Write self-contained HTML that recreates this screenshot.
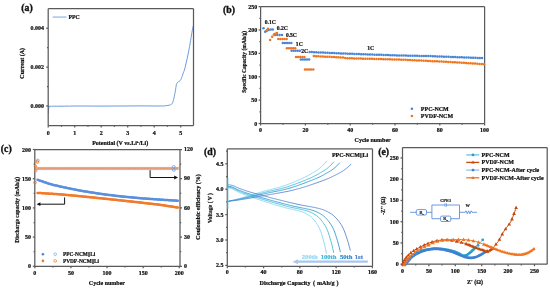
<!DOCTYPE html>
<html><head><meta charset="utf-8"><style>
html,body{margin:0;padding:0;background:#fff;}
svg{display:block;will-change:transform;}
text{font-family:'Liberation Serif',serif;font-weight:bold;}
</style></head><body>
<svg width="550" height="288" viewBox="0 0 550 288">
<rect width="550" height="288" fill="#fff"/>
<text x="27" y="10.53" font-size="9.8" text-anchor="middle" fill="#111" stroke="#111" stroke-width="0.36">(a)</text>
<polyline points="48.4,113 48.48,111.8 48.58,110.04 48.72,108.27 48.9,107 48.92,106.44 48.86,106.28 49.09,106.31 50,106.3 51.64,106.24 53.82,106.22 56.59,106.22 60,106.2 64.3,106.15 69.38,106.09 74.77,106.03 80,106 85,106.01 90,106.04 95,106.08 100,106.1 105,106.09 110,106.06 115,106.03 120,106 125,105.97 130,105.94 135,105.91 140,105.9 145.35,105.92 150.94,105.96 156.05,105.99 160,106 162.29,105.99 163.4,105.97 164.06,105.91 165,105.8 166.44,105.63 167.99,105.42 169.44,105.15 170.6,104.8 171.37,104.4 171.86,103.94 172.23,103.36 172.6,102.6 172.99,101.63 173.34,100.5 173.66,99.22 174,97.8 174.36,96.19 174.72,94.39 175.08,92.55 175.4,90.8 175.67,89.1 175.9,87.41 176.13,85.86 176.4,84.6 176.7,83.72 177.01,83.12 177.36,82.67 177.8,82.2 178.37,81.73 179.05,81.33 179.73,80.91 180.3,80.4 180.72,79.82 181.06,79.19 181.36,78.46 181.7,77.6 182.09,76.52 182.5,75.26 182.91,73.98 183.3,72.8 183.63,71.99 183.91,71.41 184.24,70.57 184.7,69 185.35,66.41 186.14,63.1 186.95,59.52 187.7,56.1 188.36,52.89 188.97,49.67 189.56,46.52 190.1,43.5 190.61,40.55 191.08,37.66 191.51,34.96 191.9,32.6 192.27,30.55 192.61,28.77 192.9,27.32 193.1,26.3" fill="none" stroke="#5b8fdc" stroke-width="0.9" stroke-linejoin="round" stroke-linecap="round"/>
<line x1="48.2" y1="8.7" x2="48.2" y2="125.6" stroke="#5a5a5a" stroke-width="1.25"/>
<line x1="193.5" y1="8.7" x2="193.5" y2="125.6" stroke="#5a5a5a" stroke-width="1.25"/>
<line x1="48.2" y1="8.7" x2="193.5" y2="8.7" stroke="#5a5a5a" stroke-width="1.25"/>
<line x1="48.2" y1="125.6" x2="193.5" y2="125.6" stroke="#5a5a5a" stroke-width="1.25"/>
<line x1="48.2" y1="125.6" x2="48.2" y2="127.6" stroke="#5a5a5a" stroke-width="1.25"/>
<line x1="74.7" y1="125.6" x2="74.7" y2="127.6" stroke="#5a5a5a" stroke-width="1.25"/>
<line x1="101.2" y1="125.6" x2="101.2" y2="127.6" stroke="#5a5a5a" stroke-width="1.25"/>
<line x1="127.7" y1="125.6" x2="127.7" y2="127.6" stroke="#5a5a5a" stroke-width="1.25"/>
<line x1="154.2" y1="125.6" x2="154.2" y2="127.6" stroke="#5a5a5a" stroke-width="1.25"/>
<line x1="180.7" y1="125.6" x2="180.7" y2="127.6" stroke="#5a5a5a" stroke-width="1.25"/>
<line x1="61.45" y1="125.6" x2="61.45" y2="126.8" stroke="#5a5a5a" stroke-width="1.25"/>
<line x1="87.95" y1="125.6" x2="87.95" y2="126.8" stroke="#5a5a5a" stroke-width="1.25"/>
<line x1="114.45" y1="125.6" x2="114.45" y2="126.8" stroke="#5a5a5a" stroke-width="1.25"/>
<line x1="140.95" y1="125.6" x2="140.95" y2="126.8" stroke="#5a5a5a" stroke-width="1.25"/>
<line x1="167.45" y1="125.6" x2="167.45" y2="126.8" stroke="#5a5a5a" stroke-width="1.25"/>
<text x="48.2" y="134.64" font-size="6" text-anchor="middle" fill="#111" stroke="#111" stroke-width="0.22">0</text>
<text x="74.7" y="134.64" font-size="6" text-anchor="middle" fill="#111" stroke="#111" stroke-width="0.22">1</text>
<text x="101.2" y="134.64" font-size="6" text-anchor="middle" fill="#111" stroke="#111" stroke-width="0.22">2</text>
<text x="127.7" y="134.64" font-size="6" text-anchor="middle" fill="#111" stroke="#111" stroke-width="0.22">3</text>
<text x="154.2" y="134.64" font-size="6" text-anchor="middle" fill="#111" stroke="#111" stroke-width="0.22">4</text>
<text x="180.7" y="134.64" font-size="6" text-anchor="middle" fill="#111" stroke="#111" stroke-width="0.22">5</text>
<line x1="48.2" y1="106" x2="46.2" y2="106" stroke="#5a5a5a" stroke-width="1.25"/>
<line x1="48.2" y1="67.1" x2="46.2" y2="67.1" stroke="#5a5a5a" stroke-width="1.25"/>
<line x1="48.2" y1="28.2" x2="46.2" y2="28.2" stroke="#5a5a5a" stroke-width="1.25"/>
<line x1="48.2" y1="86.55" x2="47" y2="86.55" stroke="#5a5a5a" stroke-width="1.25"/>
<line x1="48.2" y1="47.65" x2="47" y2="47.65" stroke="#5a5a5a" stroke-width="1.25"/>
<text x="44" y="108.04" font-size="6" text-anchor="end" fill="#111" stroke="#111" stroke-width="0.22">0.000</text>
<text x="44" y="69.14" font-size="6" text-anchor="end" fill="#111" stroke="#111" stroke-width="0.22">0.002</text>
<text x="44" y="30.24" font-size="6" text-anchor="end" fill="#111" stroke="#111" stroke-width="0.22">0.004</text>
<text x="22" y="65.34" font-size="6" text-anchor="middle" fill="#111" stroke="#111" stroke-width="0.22" transform="rotate(-90 22 63.3)">Current (A)</text>
<text x="120.2" y="145.24" font-size="6" text-anchor="middle" fill="#111" stroke="#111" stroke-width="0.22">Potential (V vs.Li<tspan font-size="3.6" dy="-2">+</tspan><tspan dy="2">/Li)</tspan></text>
<line x1="52.7" y1="17.1" x2="66.5" y2="17.1" stroke="#a9c8ee" stroke-width="1.6"/>
<text x="68.4" y="19.07" font-size="5.8" text-anchor="start" fill="#111" stroke="#111" stroke-width="0.21">PPC</text>
<text x="229" y="12.73" font-size="9.8" text-anchor="middle" fill="#111" stroke="#111" stroke-width="0.36">(b)</text>
<line x1="260.6" y1="6.6" x2="260.6" y2="123.5" stroke="#5a5a5a" stroke-width="1.25"/>
<line x1="484.6" y1="6.6" x2="484.6" y2="123.5" stroke="#5a5a5a" stroke-width="1.25"/>
<line x1="260.6" y1="6.6" x2="484.6" y2="6.6" stroke="#5a5a5a" stroke-width="1.25"/>
<line x1="260.6" y1="123.5" x2="484.6" y2="123.5" stroke="#5a5a5a" stroke-width="1.25"/>
<line x1="260.6" y1="123.5" x2="260.6" y2="125.5" stroke="#5a5a5a" stroke-width="1.25"/>
<line x1="305.4" y1="123.5" x2="305.4" y2="125.5" stroke="#5a5a5a" stroke-width="1.25"/>
<line x1="350.2" y1="123.5" x2="350.2" y2="125.5" stroke="#5a5a5a" stroke-width="1.25"/>
<line x1="395" y1="123.5" x2="395" y2="125.5" stroke="#5a5a5a" stroke-width="1.25"/>
<line x1="439.8" y1="123.5" x2="439.8" y2="125.5" stroke="#5a5a5a" stroke-width="1.25"/>
<line x1="484.6" y1="123.5" x2="484.6" y2="125.5" stroke="#5a5a5a" stroke-width="1.25"/>
<line x1="283" y1="123.5" x2="283" y2="124.7" stroke="#5a5a5a" stroke-width="1.25"/>
<line x1="327.8" y1="123.5" x2="327.8" y2="124.7" stroke="#5a5a5a" stroke-width="1.25"/>
<line x1="372.6" y1="123.5" x2="372.6" y2="124.7" stroke="#5a5a5a" stroke-width="1.25"/>
<line x1="417.4" y1="123.5" x2="417.4" y2="124.7" stroke="#5a5a5a" stroke-width="1.25"/>
<line x1="462.2" y1="123.5" x2="462.2" y2="124.7" stroke="#5a5a5a" stroke-width="1.25"/>
<text x="260.6" y="132.34" font-size="6" text-anchor="middle" fill="#111" stroke="#111" stroke-width="0.22">0</text>
<text x="305.4" y="132.34" font-size="6" text-anchor="middle" fill="#111" stroke="#111" stroke-width="0.22">20</text>
<text x="350.2" y="132.34" font-size="6" text-anchor="middle" fill="#111" stroke="#111" stroke-width="0.22">40</text>
<text x="395" y="132.34" font-size="6" text-anchor="middle" fill="#111" stroke="#111" stroke-width="0.22">60</text>
<text x="439.8" y="132.34" font-size="6" text-anchor="middle" fill="#111" stroke="#111" stroke-width="0.22">80</text>
<text x="484.6" y="132.34" font-size="6" text-anchor="middle" fill="#111" stroke="#111" stroke-width="0.22">100</text>
<line x1="260.6" y1="123.5" x2="258.6" y2="123.5" stroke="#5a5a5a" stroke-width="1.25"/>
<line x1="260.6" y1="100.12" x2="258.6" y2="100.12" stroke="#5a5a5a" stroke-width="1.25"/>
<line x1="260.6" y1="76.74" x2="258.6" y2="76.74" stroke="#5a5a5a" stroke-width="1.25"/>
<line x1="260.6" y1="53.36" x2="258.6" y2="53.36" stroke="#5a5a5a" stroke-width="1.25"/>
<line x1="260.6" y1="29.98" x2="258.6" y2="29.98" stroke="#5a5a5a" stroke-width="1.25"/>
<line x1="260.6" y1="6.6" x2="258.6" y2="6.6" stroke="#5a5a5a" stroke-width="1.25"/>
<line x1="260.6" y1="111.81" x2="259.4" y2="111.81" stroke="#5a5a5a" stroke-width="1.25"/>
<line x1="260.6" y1="88.43" x2="259.4" y2="88.43" stroke="#5a5a5a" stroke-width="1.25"/>
<line x1="260.6" y1="65.05" x2="259.4" y2="65.05" stroke="#5a5a5a" stroke-width="1.25"/>
<line x1="260.6" y1="41.67" x2="259.4" y2="41.67" stroke="#5a5a5a" stroke-width="1.25"/>
<line x1="260.6" y1="18.29" x2="259.4" y2="18.29" stroke="#5a5a5a" stroke-width="1.25"/>
<text x="257.3" y="125.54" font-size="6" text-anchor="end" fill="#111" stroke="#111" stroke-width="0.22">0</text>
<text x="257.3" y="102.16" font-size="6" text-anchor="end" fill="#111" stroke="#111" stroke-width="0.22">50</text>
<text x="257.3" y="78.78" font-size="6" text-anchor="end" fill="#111" stroke="#111" stroke-width="0.22">100</text>
<text x="257.3" y="55.4" font-size="6" text-anchor="end" fill="#111" stroke="#111" stroke-width="0.22">150</text>
<text x="257.3" y="32.02" font-size="6" text-anchor="end" fill="#111" stroke="#111" stroke-width="0.22">200</text>
<text x="257.3" y="8.64" font-size="6" text-anchor="end" fill="#111" stroke="#111" stroke-width="0.22">250</text>
<text x="243.8" y="63.67" font-size="5.5" text-anchor="middle" fill="#111" stroke="#111" stroke-width="0.2" transform="rotate(-90 243.8 61.8)">Specific Capacity (mAh/g)</text>
<text x="372.7" y="142.44" font-size="6" text-anchor="middle" fill="#111" stroke="#111" stroke-width="0.22">Cycle number</text>
<circle cx="263.5" cy="28.3" r="1.25" fill="#4a86d6" stroke="none" stroke-width="0"/>
<circle cx="265.2" cy="31.8" r="1.25" fill="#4a86d6" stroke="none" stroke-width="0"/>
<circle cx="266.6" cy="30.9" r="1.25" fill="#4a86d6" stroke="none" stroke-width="0"/>
<circle cx="268.7" cy="29.9" r="1.25" fill="#4a86d6" stroke="none" stroke-width="0"/>
<circle cx="270.8" cy="29.6" r="1.25" fill="#4a86d6" stroke="none" stroke-width="0"/>
<circle cx="272.8" cy="29.4" r="1.25" fill="#4a86d6" stroke="none" stroke-width="0"/>
<circle cx="274.9" cy="35" r="1.25" fill="#4a86d6" stroke="none" stroke-width="0"/>
<circle cx="277.27" cy="35" r="1.25" fill="#4a86d6" stroke="none" stroke-width="0"/>
<circle cx="279.63" cy="35" r="1.25" fill="#4a86d6" stroke="none" stroke-width="0"/>
<circle cx="282" cy="35" r="1.25" fill="#4a86d6" stroke="none" stroke-width="0"/>
<circle cx="282.8" cy="43" r="1.25" fill="#4a86d6" stroke="none" stroke-width="0"/>
<circle cx="284.93" cy="43" r="1.25" fill="#4a86d6" stroke="none" stroke-width="0"/>
<circle cx="287.05" cy="43" r="1.25" fill="#4a86d6" stroke="none" stroke-width="0"/>
<circle cx="289.18" cy="43" r="1.25" fill="#4a86d6" stroke="none" stroke-width="0"/>
<circle cx="291.3" cy="43" r="1.25" fill="#4a86d6" stroke="none" stroke-width="0"/>
<circle cx="291.6" cy="50.8" r="1.25" fill="#4a86d6" stroke="none" stroke-width="0"/>
<circle cx="293.65" cy="50.8" r="1.25" fill="#4a86d6" stroke="none" stroke-width="0"/>
<circle cx="295.7" cy="50.8" r="1.25" fill="#4a86d6" stroke="none" stroke-width="0"/>
<circle cx="297.75" cy="50.8" r="1.25" fill="#4a86d6" stroke="none" stroke-width="0"/>
<circle cx="299.8" cy="50.8" r="1.25" fill="#4a86d6" stroke="none" stroke-width="0"/>
<circle cx="300.8" cy="59.6" r="1.25" fill="#4a86d6" stroke="none" stroke-width="0"/>
<circle cx="302.88" cy="59.6" r="1.25" fill="#4a86d6" stroke="none" stroke-width="0"/>
<circle cx="304.95" cy="59.6" r="1.25" fill="#4a86d6" stroke="none" stroke-width="0"/>
<circle cx="307.03" cy="59.6" r="1.25" fill="#4a86d6" stroke="none" stroke-width="0"/>
<circle cx="309.1" cy="59.6" r="1.25" fill="#4a86d6" stroke="none" stroke-width="0"/>
<circle cx="309.6" cy="52" r="1.25" fill="#4a86d6" stroke="none" stroke-width="0"/>
<circle cx="311.84" cy="52.1" r="1.25" fill="#4a86d6" stroke="none" stroke-width="0"/>
<circle cx="314.08" cy="52.2" r="1.25" fill="#4a86d6" stroke="none" stroke-width="0"/>
<circle cx="316.32" cy="52.3" r="1.25" fill="#4a86d6" stroke="none" stroke-width="0"/>
<circle cx="318.56" cy="52.4" r="1.25" fill="#4a86d6" stroke="none" stroke-width="0"/>
<circle cx="320.8" cy="52.5" r="1.25" fill="#4a86d6" stroke="none" stroke-width="0"/>
<circle cx="323.04" cy="52.6" r="1.25" fill="#4a86d6" stroke="none" stroke-width="0"/>
<circle cx="325.28" cy="52.7" r="1.25" fill="#4a86d6" stroke="none" stroke-width="0"/>
<circle cx="327.52" cy="52.8" r="1.25" fill="#4a86d6" stroke="none" stroke-width="0"/>
<circle cx="329.76" cy="52.9" r="1.25" fill="#4a86d6" stroke="none" stroke-width="0"/>
<circle cx="332" cy="53" r="1.25" fill="#4a86d6" stroke="none" stroke-width="0"/>
<circle cx="334.24" cy="53.1" r="1.25" fill="#4a86d6" stroke="none" stroke-width="0"/>
<circle cx="336.48" cy="53.2" r="1.25" fill="#4a86d6" stroke="none" stroke-width="0"/>
<circle cx="338.72" cy="53.3" r="1.25" fill="#4a86d6" stroke="none" stroke-width="0"/>
<circle cx="340.96" cy="53.4" r="1.25" fill="#4a86d6" stroke="none" stroke-width="0"/>
<circle cx="343.2" cy="53.5" r="1.25" fill="#4a86d6" stroke="none" stroke-width="0"/>
<circle cx="345.44" cy="53.6" r="1.25" fill="#4a86d6" stroke="none" stroke-width="0"/>
<circle cx="347.68" cy="53.7" r="1.25" fill="#4a86d6" stroke="none" stroke-width="0"/>
<circle cx="349.92" cy="53.8" r="1.25" fill="#4a86d6" stroke="none" stroke-width="0"/>
<circle cx="352.16" cy="53.87" r="1.25" fill="#4a86d6" stroke="none" stroke-width="0"/>
<circle cx="354.4" cy="53.95" r="1.25" fill="#4a86d6" stroke="none" stroke-width="0"/>
<circle cx="356.64" cy="54.03" r="1.25" fill="#4a86d6" stroke="none" stroke-width="0"/>
<circle cx="358.88" cy="54.1" r="1.25" fill="#4a86d6" stroke="none" stroke-width="0"/>
<circle cx="361.12" cy="54.18" r="1.25" fill="#4a86d6" stroke="none" stroke-width="0"/>
<circle cx="363.36" cy="54.25" r="1.25" fill="#4a86d6" stroke="none" stroke-width="0"/>
<circle cx="365.6" cy="54.33" r="1.25" fill="#4a86d6" stroke="none" stroke-width="0"/>
<circle cx="367.84" cy="54.41" r="1.25" fill="#4a86d6" stroke="none" stroke-width="0"/>
<circle cx="370.08" cy="54.48" r="1.25" fill="#4a86d6" stroke="none" stroke-width="0"/>
<circle cx="372.32" cy="54.56" r="1.25" fill="#4a86d6" stroke="none" stroke-width="0"/>
<circle cx="374.56" cy="54.64" r="1.25" fill="#4a86d6" stroke="none" stroke-width="0"/>
<circle cx="376.8" cy="54.71" r="1.25" fill="#4a86d6" stroke="none" stroke-width="0"/>
<circle cx="379.04" cy="54.79" r="1.25" fill="#4a86d6" stroke="none" stroke-width="0"/>
<circle cx="381.28" cy="54.86" r="1.25" fill="#4a86d6" stroke="none" stroke-width="0"/>
<circle cx="383.52" cy="54.94" r="1.25" fill="#4a86d6" stroke="none" stroke-width="0"/>
<circle cx="385.76" cy="55.02" r="1.25" fill="#4a86d6" stroke="none" stroke-width="0"/>
<circle cx="388" cy="55.09" r="1.25" fill="#4a86d6" stroke="none" stroke-width="0"/>
<circle cx="390.24" cy="55.17" r="1.25" fill="#4a86d6" stroke="none" stroke-width="0"/>
<circle cx="392.48" cy="55.24" r="1.25" fill="#4a86d6" stroke="none" stroke-width="0"/>
<circle cx="394.72" cy="55.32" r="1.25" fill="#4a86d6" stroke="none" stroke-width="0"/>
<circle cx="396.96" cy="55.4" r="1.25" fill="#4a86d6" stroke="none" stroke-width="0"/>
<circle cx="399.2" cy="55.47" r="1.25" fill="#4a86d6" stroke="none" stroke-width="0"/>
<circle cx="401.44" cy="55.53" r="1.25" fill="#4a86d6" stroke="none" stroke-width="0"/>
<circle cx="403.68" cy="55.57" r="1.25" fill="#4a86d6" stroke="none" stroke-width="0"/>
<circle cx="405.92" cy="55.62" r="1.25" fill="#4a86d6" stroke="none" stroke-width="0"/>
<circle cx="408.16" cy="55.66" r="1.25" fill="#4a86d6" stroke="none" stroke-width="0"/>
<circle cx="410.4" cy="55.71" r="1.25" fill="#4a86d6" stroke="none" stroke-width="0"/>
<circle cx="412.64" cy="55.75" r="1.25" fill="#4a86d6" stroke="none" stroke-width="0"/>
<circle cx="414.88" cy="55.8" r="1.25" fill="#4a86d6" stroke="none" stroke-width="0"/>
<circle cx="417.12" cy="55.84" r="1.25" fill="#4a86d6" stroke="none" stroke-width="0"/>
<circle cx="419.36" cy="55.89" r="1.25" fill="#4a86d6" stroke="none" stroke-width="0"/>
<circle cx="421.6" cy="55.93" r="1.25" fill="#4a86d6" stroke="none" stroke-width="0"/>
<circle cx="423.84" cy="55.98" r="1.25" fill="#4a86d6" stroke="none" stroke-width="0"/>
<circle cx="426.08" cy="56.02" r="1.25" fill="#4a86d6" stroke="none" stroke-width="0"/>
<circle cx="428.32" cy="56.07" r="1.25" fill="#4a86d6" stroke="none" stroke-width="0"/>
<circle cx="430.56" cy="56.12" r="1.25" fill="#4a86d6" stroke="none" stroke-width="0"/>
<circle cx="432.8" cy="56.21" r="1.25" fill="#4a86d6" stroke="none" stroke-width="0"/>
<circle cx="435.04" cy="56.3" r="1.25" fill="#4a86d6" stroke="none" stroke-width="0"/>
<circle cx="437.28" cy="56.38" r="1.25" fill="#4a86d6" stroke="none" stroke-width="0"/>
<circle cx="439.52" cy="56.47" r="1.25" fill="#4a86d6" stroke="none" stroke-width="0"/>
<circle cx="441.76" cy="56.56" r="1.25" fill="#4a86d6" stroke="none" stroke-width="0"/>
<circle cx="444" cy="56.64" r="1.25" fill="#4a86d6" stroke="none" stroke-width="0"/>
<circle cx="446.24" cy="56.73" r="1.25" fill="#4a86d6" stroke="none" stroke-width="0"/>
<circle cx="448.48" cy="56.82" r="1.25" fill="#4a86d6" stroke="none" stroke-width="0"/>
<circle cx="450.72" cy="56.9" r="1.25" fill="#4a86d6" stroke="none" stroke-width="0"/>
<circle cx="452.96" cy="56.99" r="1.25" fill="#4a86d6" stroke="none" stroke-width="0"/>
<circle cx="455.2" cy="57.08" r="1.25" fill="#4a86d6" stroke="none" stroke-width="0"/>
<circle cx="457.44" cy="57.16" r="1.25" fill="#4a86d6" stroke="none" stroke-width="0"/>
<circle cx="459.68" cy="57.25" r="1.25" fill="#4a86d6" stroke="none" stroke-width="0"/>
<circle cx="461.92" cy="57.34" r="1.25" fill="#4a86d6" stroke="none" stroke-width="0"/>
<circle cx="464.16" cy="57.42" r="1.25" fill="#4a86d6" stroke="none" stroke-width="0"/>
<circle cx="466.4" cy="57.51" r="1.25" fill="#4a86d6" stroke="none" stroke-width="0"/>
<circle cx="468.64" cy="57.6" r="1.25" fill="#4a86d6" stroke="none" stroke-width="0"/>
<circle cx="470.88" cy="57.68" r="1.25" fill="#4a86d6" stroke="none" stroke-width="0"/>
<circle cx="473.12" cy="57.77" r="1.25" fill="#4a86d6" stroke="none" stroke-width="0"/>
<circle cx="475.36" cy="57.86" r="1.25" fill="#4a86d6" stroke="none" stroke-width="0"/>
<circle cx="477.6" cy="57.94" r="1.25" fill="#4a86d6" stroke="none" stroke-width="0"/>
<circle cx="479.84" cy="58.03" r="1.25" fill="#4a86d6" stroke="none" stroke-width="0"/>
<circle cx="482.08" cy="58.12" r="1.25" fill="#4a86d6" stroke="none" stroke-width="0"/>
<circle cx="266.9" cy="30.3" r="1.25" fill="#f0741e" stroke="none" stroke-width="0"/>
<circle cx="268" cy="28.7" r="1.25" fill="#f0741e" stroke="none" stroke-width="0"/>
<circle cx="270.1" cy="40" r="1.25" fill="#f0741e" stroke="none" stroke-width="0"/>
<circle cx="272.2" cy="36.8" r="1.25" fill="#f0741e" stroke="none" stroke-width="0"/>
<circle cx="273.9" cy="34.4" r="1.25" fill="#f0741e" stroke="none" stroke-width="0"/>
<circle cx="275.3" cy="33.7" r="1.25" fill="#f0741e" stroke="none" stroke-width="0"/>
<circle cx="277" cy="33" r="1.25" fill="#f0741e" stroke="none" stroke-width="0"/>
<circle cx="278.3" cy="38.9" r="1.25" fill="#f0741e" stroke="none" stroke-width="0"/>
<circle cx="280.38" cy="38.9" r="1.25" fill="#f0741e" stroke="none" stroke-width="0"/>
<circle cx="282.45" cy="38.9" r="1.25" fill="#f0741e" stroke="none" stroke-width="0"/>
<circle cx="284.53" cy="38.9" r="1.25" fill="#f0741e" stroke="none" stroke-width="0"/>
<circle cx="286.6" cy="38.9" r="1.25" fill="#f0741e" stroke="none" stroke-width="0"/>
<circle cx="286.9" cy="48.2" r="1.25" fill="#f0741e" stroke="none" stroke-width="0"/>
<circle cx="288.97" cy="48.2" r="1.25" fill="#f0741e" stroke="none" stroke-width="0"/>
<circle cx="291.05" cy="48.2" r="1.25" fill="#f0741e" stroke="none" stroke-width="0"/>
<circle cx="293.12" cy="48.2" r="1.25" fill="#f0741e" stroke="none" stroke-width="0"/>
<circle cx="295.2" cy="48.2" r="1.25" fill="#f0741e" stroke="none" stroke-width="0"/>
<circle cx="296" cy="57.1" r="1.25" fill="#f0741e" stroke="none" stroke-width="0"/>
<circle cx="298.1" cy="57.1" r="1.25" fill="#f0741e" stroke="none" stroke-width="0"/>
<circle cx="300.2" cy="57.1" r="1.25" fill="#f0741e" stroke="none" stroke-width="0"/>
<circle cx="302.3" cy="57.1" r="1.25" fill="#f0741e" stroke="none" stroke-width="0"/>
<circle cx="304.4" cy="57.1" r="1.25" fill="#f0741e" stroke="none" stroke-width="0"/>
<circle cx="305" cy="69.5" r="1.25" fill="#f0741e" stroke="none" stroke-width="0"/>
<circle cx="307.07" cy="69.5" r="1.25" fill="#f0741e" stroke="none" stroke-width="0"/>
<circle cx="309.15" cy="69.5" r="1.25" fill="#f0741e" stroke="none" stroke-width="0"/>
<circle cx="311.23" cy="69.5" r="1.25" fill="#f0741e" stroke="none" stroke-width="0"/>
<circle cx="313.3" cy="69.5" r="1.25" fill="#f0741e" stroke="none" stroke-width="0"/>
<circle cx="313.8" cy="56.1" r="1.25" fill="#f0741e" stroke="none" stroke-width="0"/>
<circle cx="316.04" cy="56.21" r="1.25" fill="#f0741e" stroke="none" stroke-width="0"/>
<circle cx="318.28" cy="56.32" r="1.25" fill="#f0741e" stroke="none" stroke-width="0"/>
<circle cx="320.52" cy="56.43" r="1.25" fill="#f0741e" stroke="none" stroke-width="0"/>
<circle cx="322.76" cy="56.54" r="1.25" fill="#f0741e" stroke="none" stroke-width="0"/>
<circle cx="325" cy="56.65" r="1.25" fill="#f0741e" stroke="none" stroke-width="0"/>
<circle cx="327.24" cy="56.76" r="1.25" fill="#f0741e" stroke="none" stroke-width="0"/>
<circle cx="329.48" cy="56.87" r="1.25" fill="#f0741e" stroke="none" stroke-width="0"/>
<circle cx="331.72" cy="56.99" r="1.25" fill="#f0741e" stroke="none" stroke-width="0"/>
<circle cx="333.96" cy="57.1" r="1.25" fill="#f0741e" stroke="none" stroke-width="0"/>
<circle cx="336.2" cy="57.21" r="1.25" fill="#f0741e" stroke="none" stroke-width="0"/>
<circle cx="338.44" cy="57.32" r="1.25" fill="#f0741e" stroke="none" stroke-width="0"/>
<circle cx="340.68" cy="57.43" r="1.25" fill="#f0741e" stroke="none" stroke-width="0"/>
<circle cx="342.92" cy="57.55" r="1.25" fill="#f0741e" stroke="none" stroke-width="0"/>
<circle cx="345.16" cy="58.06" r="1.25" fill="#f0741e" stroke="none" stroke-width="0"/>
<circle cx="347.4" cy="58.25" r="1.25" fill="#f0741e" stroke="none" stroke-width="0"/>
<circle cx="349.64" cy="58.3" r="1.25" fill="#f0741e" stroke="none" stroke-width="0"/>
<circle cx="351.88" cy="58.36" r="1.25" fill="#f0741e" stroke="none" stroke-width="0"/>
<circle cx="354.12" cy="58.41" r="1.25" fill="#f0741e" stroke="none" stroke-width="0"/>
<circle cx="356.36" cy="58.47" r="1.25" fill="#f0741e" stroke="none" stroke-width="0"/>
<circle cx="358.6" cy="58.52" r="1.25" fill="#f0741e" stroke="none" stroke-width="0"/>
<circle cx="360.84" cy="58.58" r="1.25" fill="#f0741e" stroke="none" stroke-width="0"/>
<circle cx="363.08" cy="58.63" r="1.25" fill="#f0741e" stroke="none" stroke-width="0"/>
<circle cx="365.32" cy="58.69" r="1.25" fill="#f0741e" stroke="none" stroke-width="0"/>
<circle cx="367.56" cy="58.74" r="1.25" fill="#f0741e" stroke="none" stroke-width="0"/>
<circle cx="369.8" cy="58.8" r="1.25" fill="#f0741e" stroke="none" stroke-width="0"/>
<circle cx="372.04" cy="58.85" r="1.25" fill="#f0741e" stroke="none" stroke-width="0"/>
<circle cx="374.28" cy="58.91" r="1.25" fill="#f0741e" stroke="none" stroke-width="0"/>
<circle cx="376.52" cy="58.97" r="1.25" fill="#f0741e" stroke="none" stroke-width="0"/>
<circle cx="378.76" cy="59.03" r="1.25" fill="#f0741e" stroke="none" stroke-width="0"/>
<circle cx="381" cy="59.09" r="1.25" fill="#f0741e" stroke="none" stroke-width="0"/>
<circle cx="383.24" cy="59.15" r="1.25" fill="#f0741e" stroke="none" stroke-width="0"/>
<circle cx="385.48" cy="59.21" r="1.25" fill="#f0741e" stroke="none" stroke-width="0"/>
<circle cx="387.72" cy="59.27" r="1.25" fill="#f0741e" stroke="none" stroke-width="0"/>
<circle cx="389.96" cy="59.33" r="1.25" fill="#f0741e" stroke="none" stroke-width="0"/>
<circle cx="392.2" cy="59.39" r="1.25" fill="#f0741e" stroke="none" stroke-width="0"/>
<circle cx="394.44" cy="59.45" r="1.25" fill="#f0741e" stroke="none" stroke-width="0"/>
<circle cx="396.68" cy="59.51" r="1.25" fill="#f0741e" stroke="none" stroke-width="0"/>
<circle cx="398.92" cy="59.57" r="1.25" fill="#f0741e" stroke="none" stroke-width="0"/>
<circle cx="401.16" cy="59.65" r="1.25" fill="#f0741e" stroke="none" stroke-width="0"/>
<circle cx="403.4" cy="59.76" r="1.25" fill="#f0741e" stroke="none" stroke-width="0"/>
<circle cx="405.64" cy="59.86" r="1.25" fill="#f0741e" stroke="none" stroke-width="0"/>
<circle cx="407.88" cy="59.97" r="1.25" fill="#f0741e" stroke="none" stroke-width="0"/>
<circle cx="410.12" cy="60.07" r="1.25" fill="#f0741e" stroke="none" stroke-width="0"/>
<circle cx="412.36" cy="60.18" r="1.25" fill="#f0741e" stroke="none" stroke-width="0"/>
<circle cx="414.6" cy="60.28" r="1.25" fill="#f0741e" stroke="none" stroke-width="0"/>
<circle cx="416.84" cy="60.39" r="1.25" fill="#f0741e" stroke="none" stroke-width="0"/>
<circle cx="419.08" cy="60.49" r="1.25" fill="#f0741e" stroke="none" stroke-width="0"/>
<circle cx="421.32" cy="60.59" r="1.25" fill="#f0741e" stroke="none" stroke-width="0"/>
<circle cx="423.56" cy="60.7" r="1.25" fill="#f0741e" stroke="none" stroke-width="0"/>
<circle cx="425.8" cy="60.8" r="1.25" fill="#f0741e" stroke="none" stroke-width="0"/>
<circle cx="428.04" cy="60.91" r="1.25" fill="#f0741e" stroke="none" stroke-width="0"/>
<circle cx="430.28" cy="61.01" r="1.25" fill="#f0741e" stroke="none" stroke-width="0"/>
<circle cx="432.52" cy="61.13" r="1.25" fill="#f0741e" stroke="none" stroke-width="0"/>
<circle cx="434.76" cy="61.25" r="1.25" fill="#f0741e" stroke="none" stroke-width="0"/>
<circle cx="437" cy="61.37" r="1.25" fill="#f0741e" stroke="none" stroke-width="0"/>
<circle cx="439.24" cy="61.49" r="1.25" fill="#f0741e" stroke="none" stroke-width="0"/>
<circle cx="441.48" cy="61.61" r="1.25" fill="#f0741e" stroke="none" stroke-width="0"/>
<circle cx="443.72" cy="61.73" r="1.25" fill="#f0741e" stroke="none" stroke-width="0"/>
<circle cx="445.96" cy="61.85" r="1.25" fill="#f0741e" stroke="none" stroke-width="0"/>
<circle cx="448.2" cy="61.97" r="1.25" fill="#f0741e" stroke="none" stroke-width="0"/>
<circle cx="450.44" cy="62.09" r="1.25" fill="#f0741e" stroke="none" stroke-width="0"/>
<circle cx="452.68" cy="62.21" r="1.25" fill="#f0741e" stroke="none" stroke-width="0"/>
<circle cx="454.92" cy="62.33" r="1.25" fill="#f0741e" stroke="none" stroke-width="0"/>
<circle cx="457.16" cy="62.45" r="1.25" fill="#f0741e" stroke="none" stroke-width="0"/>
<circle cx="459.4" cy="62.57" r="1.25" fill="#f0741e" stroke="none" stroke-width="0"/>
<circle cx="461.64" cy="62.71" r="1.25" fill="#f0741e" stroke="none" stroke-width="0"/>
<circle cx="463.88" cy="62.86" r="1.25" fill="#f0741e" stroke="none" stroke-width="0"/>
<circle cx="466.12" cy="63" r="1.25" fill="#f0741e" stroke="none" stroke-width="0"/>
<circle cx="468.36" cy="63.15" r="1.25" fill="#f0741e" stroke="none" stroke-width="0"/>
<circle cx="470.6" cy="63.3" r="1.25" fill="#f0741e" stroke="none" stroke-width="0"/>
<circle cx="472.84" cy="63.45" r="1.25" fill="#f0741e" stroke="none" stroke-width="0"/>
<circle cx="475.08" cy="63.6" r="1.25" fill="#f0741e" stroke="none" stroke-width="0"/>
<circle cx="477.32" cy="63.75" r="1.25" fill="#f0741e" stroke="none" stroke-width="0"/>
<circle cx="479.56" cy="63.89" r="1.25" fill="#f0741e" stroke="none" stroke-width="0"/>
<circle cx="481.8" cy="64.04" r="1.25" fill="#f0741e" stroke="none" stroke-width="0"/>
<circle cx="484.04" cy="64.19" r="1.25" fill="#f0741e" stroke="none" stroke-width="0"/>
<text x="270.25" y="24.4" font-size="5.6" text-anchor="middle" fill="#111" stroke="#111" stroke-width="0.21">0.1C</text>
<text x="282.35" y="29.7" font-size="5.6" text-anchor="middle" fill="#111" stroke="#111" stroke-width="0.21">0.2C</text>
<text x="291.4" y="36.9" font-size="5.6" text-anchor="middle" fill="#111" stroke="#111" stroke-width="0.21">0.5C</text>
<text x="299.25" y="46.1" font-size="5.6" text-anchor="middle" fill="#111" stroke="#111" stroke-width="0.21">1C</text>
<text x="304.65" y="53.3" font-size="5.6" text-anchor="middle" fill="#111" stroke="#111" stroke-width="0.21">2C</text>
<text x="370.6" y="49.5" font-size="5.6" text-anchor="middle" fill="#111" stroke="#111" stroke-width="0.21">1C</text>
<circle cx="411.9" cy="108.7" r="1.3" fill="#4a86d6" stroke="none" stroke-width="0"/>
<circle cx="411.9" cy="116" r="1.3" fill="#f0741e" stroke="none" stroke-width="0"/>
<text x="420.8" y="110.74" font-size="6" text-anchor="start" fill="#111" stroke="#111" stroke-width="0.22">PPC-NCM</text>
<text x="420.8" y="118.04" font-size="6" text-anchor="start" fill="#111" stroke="#111" stroke-width="0.22">PVDF-NCM</text>
<text x="6.3" y="151.93" font-size="9.8" text-anchor="middle" fill="#111" stroke="#111" stroke-width="0.36">(c)</text>
<line x1="34.8" y1="149.5" x2="34.8" y2="266.3" stroke="#5a5a5a" stroke-width="1.25"/>
<line x1="180" y1="149.5" x2="180" y2="266.3" stroke="#5a5a5a" stroke-width="1.25"/>
<line x1="34.8" y1="149.5" x2="180" y2="149.5" stroke="#5a5a5a" stroke-width="1.25"/>
<line x1="34.8" y1="266.3" x2="180" y2="266.3" stroke="#5a5a5a" stroke-width="1.25"/>
<line x1="34.8" y1="266.3" x2="34.8" y2="268.3" stroke="#5a5a5a" stroke-width="1.25"/>
<line x1="70.92" y1="266.3" x2="70.92" y2="268.3" stroke="#5a5a5a" stroke-width="1.25"/>
<line x1="107.05" y1="266.3" x2="107.05" y2="268.3" stroke="#5a5a5a" stroke-width="1.25"/>
<line x1="143.18" y1="266.3" x2="143.18" y2="268.3" stroke="#5a5a5a" stroke-width="1.25"/>
<line x1="179.3" y1="266.3" x2="179.3" y2="268.3" stroke="#5a5a5a" stroke-width="1.25"/>
<line x1="52.86" y1="266.3" x2="52.86" y2="267.5" stroke="#5a5a5a" stroke-width="1.25"/>
<line x1="88.99" y1="266.3" x2="88.99" y2="267.5" stroke="#5a5a5a" stroke-width="1.25"/>
<line x1="125.11" y1="266.3" x2="125.11" y2="267.5" stroke="#5a5a5a" stroke-width="1.25"/>
<line x1="161.24" y1="266.3" x2="161.24" y2="267.5" stroke="#5a5a5a" stroke-width="1.25"/>
<text x="34.8" y="275.04" font-size="6" text-anchor="middle" fill="#111" stroke="#111" stroke-width="0.22">0</text>
<text x="70.92" y="275.04" font-size="6" text-anchor="middle" fill="#111" stroke="#111" stroke-width="0.22">50</text>
<text x="107.05" y="275.04" font-size="6" text-anchor="middle" fill="#111" stroke="#111" stroke-width="0.22">100</text>
<text x="143.18" y="275.04" font-size="6" text-anchor="middle" fill="#111" stroke="#111" stroke-width="0.22">150</text>
<text x="179.3" y="275.04" font-size="6" text-anchor="middle" fill="#111" stroke="#111" stroke-width="0.22">200</text>
<line x1="34.8" y1="266.3" x2="32.8" y2="266.3" stroke="#5a5a5a" stroke-width="1.25"/>
<line x1="34.8" y1="237.1" x2="32.8" y2="237.1" stroke="#5a5a5a" stroke-width="1.25"/>
<line x1="34.8" y1="207.9" x2="32.8" y2="207.9" stroke="#5a5a5a" stroke-width="1.25"/>
<line x1="34.8" y1="178.7" x2="32.8" y2="178.7" stroke="#5a5a5a" stroke-width="1.25"/>
<line x1="34.8" y1="149.5" x2="32.8" y2="149.5" stroke="#5a5a5a" stroke-width="1.25"/>
<line x1="34.8" y1="251.7" x2="33.6" y2="251.7" stroke="#5a5a5a" stroke-width="1.25"/>
<line x1="34.8" y1="222.5" x2="33.6" y2="222.5" stroke="#5a5a5a" stroke-width="1.25"/>
<line x1="34.8" y1="193.3" x2="33.6" y2="193.3" stroke="#5a5a5a" stroke-width="1.25"/>
<line x1="34.8" y1="164.1" x2="33.6" y2="164.1" stroke="#5a5a5a" stroke-width="1.25"/>
<text x="31" y="268.34" font-size="6" text-anchor="end" fill="#111" stroke="#111" stroke-width="0.22">0</text>
<text x="31" y="239.14" font-size="6" text-anchor="end" fill="#111" stroke="#111" stroke-width="0.22">50</text>
<text x="31" y="209.94" font-size="6" text-anchor="end" fill="#111" stroke="#111" stroke-width="0.22">100</text>
<text x="31" y="180.74" font-size="6" text-anchor="end" fill="#111" stroke="#111" stroke-width="0.22">150</text>
<text x="31" y="151.54" font-size="6" text-anchor="end" fill="#111" stroke="#111" stroke-width="0.22">200</text>
<line x1="180" y1="266.3" x2="182" y2="266.3" stroke="#5a5a5a" stroke-width="1.25"/>
<line x1="180" y1="237.1" x2="182" y2="237.1" stroke="#5a5a5a" stroke-width="1.25"/>
<line x1="180" y1="207.9" x2="182" y2="207.9" stroke="#5a5a5a" stroke-width="1.25"/>
<line x1="180" y1="178.7" x2="182" y2="178.7" stroke="#5a5a5a" stroke-width="1.25"/>
<line x1="180" y1="149.5" x2="182" y2="149.5" stroke="#5a5a5a" stroke-width="1.25"/>
<line x1="180" y1="251.7" x2="181.2" y2="251.7" stroke="#5a5a5a" stroke-width="1.25"/>
<line x1="180" y1="222.5" x2="181.2" y2="222.5" stroke="#5a5a5a" stroke-width="1.25"/>
<line x1="180" y1="193.3" x2="181.2" y2="193.3" stroke="#5a5a5a" stroke-width="1.25"/>
<line x1="180" y1="164.1" x2="181.2" y2="164.1" stroke="#5a5a5a" stroke-width="1.25"/>
<text x="184" y="267.94" font-size="6" text-anchor="start" fill="#111" stroke="#111" stroke-width="0.22">0</text>
<text x="184" y="238.74" font-size="6" text-anchor="start" fill="#111" stroke="#111" stroke-width="0.22">30</text>
<text x="184" y="209.54" font-size="6" text-anchor="start" fill="#111" stroke="#111" stroke-width="0.22">60</text>
<text x="184" y="180.34" font-size="6" text-anchor="start" fill="#111" stroke="#111" stroke-width="0.22">90</text>
<text x="184" y="151.14" font-size="6" text-anchor="start" fill="#111" stroke="#111" stroke-width="0.22">120</text>
<text x="17" y="211.69" font-size="5.55" text-anchor="middle" fill="#111" stroke="#111" stroke-width="0.2" transform="rotate(-90 17 209.8)">Discharge capacity (mAh/g)</text>
<text x="198.4" y="209.04" font-size="6" text-anchor="middle" fill="#111" stroke="#111" stroke-width="0.22" transform="rotate(-90 198.4 207)">Coulombic efficiency (%)</text>
<text x="106.9" y="285.34" font-size="6" text-anchor="middle" fill="#111" stroke="#111" stroke-width="0.22">Cycle number</text>
<circle cx="36.6" cy="168.9" r="1" fill="none" stroke="#9dbdea" stroke-width="0.45"/>
<circle cx="38.05" cy="168.9" r="1" fill="none" stroke="#9dbdea" stroke-width="0.45"/>
<circle cx="39.5" cy="168.9" r="1" fill="none" stroke="#9dbdea" stroke-width="0.45"/>
<circle cx="40.95" cy="168.9" r="1" fill="none" stroke="#9dbdea" stroke-width="0.45"/>
<circle cx="42.4" cy="168.9" r="1" fill="none" stroke="#9dbdea" stroke-width="0.45"/>
<circle cx="43.85" cy="168.9" r="1" fill="none" stroke="#9dbdea" stroke-width="0.45"/>
<circle cx="45.3" cy="168.9" r="1" fill="none" stroke="#9dbdea" stroke-width="0.45"/>
<circle cx="46.75" cy="168.9" r="1" fill="none" stroke="#9dbdea" stroke-width="0.45"/>
<circle cx="48.2" cy="168.9" r="1" fill="none" stroke="#9dbdea" stroke-width="0.45"/>
<circle cx="49.65" cy="168.9" r="1" fill="none" stroke="#9dbdea" stroke-width="0.45"/>
<circle cx="51.1" cy="168.9" r="1" fill="none" stroke="#9dbdea" stroke-width="0.45"/>
<circle cx="52.55" cy="168.9" r="1" fill="none" stroke="#9dbdea" stroke-width="0.45"/>
<circle cx="54" cy="168.9" r="1" fill="none" stroke="#9dbdea" stroke-width="0.45"/>
<circle cx="55.45" cy="168.9" r="1" fill="none" stroke="#9dbdea" stroke-width="0.45"/>
<circle cx="56.9" cy="168.9" r="1" fill="none" stroke="#9dbdea" stroke-width="0.45"/>
<circle cx="58.35" cy="168.9" r="1" fill="none" stroke="#9dbdea" stroke-width="0.45"/>
<circle cx="59.8" cy="168.9" r="1" fill="none" stroke="#9dbdea" stroke-width="0.45"/>
<circle cx="61.25" cy="168.9" r="1" fill="none" stroke="#9dbdea" stroke-width="0.45"/>
<circle cx="62.7" cy="168.9" r="1" fill="none" stroke="#9dbdea" stroke-width="0.45"/>
<circle cx="64.15" cy="168.9" r="1" fill="none" stroke="#9dbdea" stroke-width="0.45"/>
<circle cx="65.6" cy="168.9" r="1" fill="none" stroke="#9dbdea" stroke-width="0.45"/>
<circle cx="67.05" cy="168.9" r="1" fill="none" stroke="#9dbdea" stroke-width="0.45"/>
<circle cx="68.5" cy="168.9" r="1" fill="none" stroke="#9dbdea" stroke-width="0.45"/>
<circle cx="69.95" cy="168.9" r="1" fill="none" stroke="#9dbdea" stroke-width="0.45"/>
<circle cx="71.4" cy="168.9" r="1" fill="none" stroke="#9dbdea" stroke-width="0.45"/>
<circle cx="72.85" cy="168.9" r="1" fill="none" stroke="#9dbdea" stroke-width="0.45"/>
<circle cx="74.3" cy="168.9" r="1" fill="none" stroke="#9dbdea" stroke-width="0.45"/>
<circle cx="75.75" cy="168.9" r="1" fill="none" stroke="#9dbdea" stroke-width="0.45"/>
<circle cx="77.2" cy="168.9" r="1" fill="none" stroke="#9dbdea" stroke-width="0.45"/>
<circle cx="78.65" cy="168.9" r="1" fill="none" stroke="#9dbdea" stroke-width="0.45"/>
<circle cx="80.1" cy="168.9" r="1" fill="none" stroke="#9dbdea" stroke-width="0.45"/>
<circle cx="81.55" cy="168.9" r="1" fill="none" stroke="#9dbdea" stroke-width="0.45"/>
<circle cx="83" cy="168.9" r="1" fill="none" stroke="#9dbdea" stroke-width="0.45"/>
<circle cx="84.45" cy="168.9" r="1" fill="none" stroke="#9dbdea" stroke-width="0.45"/>
<circle cx="85.9" cy="168.9" r="1" fill="none" stroke="#9dbdea" stroke-width="0.45"/>
<circle cx="87.35" cy="168.9" r="1" fill="none" stroke="#9dbdea" stroke-width="0.45"/>
<circle cx="88.8" cy="168.9" r="1" fill="none" stroke="#9dbdea" stroke-width="0.45"/>
<circle cx="90.25" cy="168.9" r="1" fill="none" stroke="#9dbdea" stroke-width="0.45"/>
<circle cx="91.7" cy="168.9" r="1" fill="none" stroke="#9dbdea" stroke-width="0.45"/>
<circle cx="93.15" cy="168.9" r="1" fill="none" stroke="#9dbdea" stroke-width="0.45"/>
<circle cx="94.6" cy="168.9" r="1" fill="none" stroke="#9dbdea" stroke-width="0.45"/>
<circle cx="96.05" cy="168.9" r="1" fill="none" stroke="#9dbdea" stroke-width="0.45"/>
<circle cx="97.5" cy="168.9" r="1" fill="none" stroke="#9dbdea" stroke-width="0.45"/>
<circle cx="98.95" cy="168.9" r="1" fill="none" stroke="#9dbdea" stroke-width="0.45"/>
<circle cx="100.4" cy="168.9" r="1" fill="none" stroke="#9dbdea" stroke-width="0.45"/>
<circle cx="101.85" cy="168.9" r="1" fill="none" stroke="#9dbdea" stroke-width="0.45"/>
<circle cx="103.3" cy="168.9" r="1" fill="none" stroke="#9dbdea" stroke-width="0.45"/>
<circle cx="104.75" cy="168.9" r="1" fill="none" stroke="#9dbdea" stroke-width="0.45"/>
<circle cx="106.2" cy="168.9" r="1" fill="none" stroke="#9dbdea" stroke-width="0.45"/>
<circle cx="107.65" cy="168.9" r="1" fill="none" stroke="#9dbdea" stroke-width="0.45"/>
<circle cx="109.1" cy="168.9" r="1" fill="none" stroke="#9dbdea" stroke-width="0.45"/>
<circle cx="110.55" cy="168.9" r="1" fill="none" stroke="#9dbdea" stroke-width="0.45"/>
<circle cx="112" cy="168.9" r="1" fill="none" stroke="#9dbdea" stroke-width="0.45"/>
<circle cx="113.45" cy="168.9" r="1" fill="none" stroke="#9dbdea" stroke-width="0.45"/>
<circle cx="114.9" cy="168.9" r="1" fill="none" stroke="#9dbdea" stroke-width="0.45"/>
<circle cx="116.35" cy="168.9" r="1" fill="none" stroke="#9dbdea" stroke-width="0.45"/>
<circle cx="117.8" cy="168.9" r="1" fill="none" stroke="#9dbdea" stroke-width="0.45"/>
<circle cx="119.25" cy="168.9" r="1" fill="none" stroke="#9dbdea" stroke-width="0.45"/>
<circle cx="120.7" cy="168.9" r="1" fill="none" stroke="#9dbdea" stroke-width="0.45"/>
<circle cx="122.15" cy="168.9" r="1" fill="none" stroke="#9dbdea" stroke-width="0.45"/>
<circle cx="123.6" cy="168.9" r="1" fill="none" stroke="#9dbdea" stroke-width="0.45"/>
<circle cx="125.05" cy="168.9" r="1" fill="none" stroke="#9dbdea" stroke-width="0.45"/>
<circle cx="126.5" cy="168.9" r="1" fill="none" stroke="#9dbdea" stroke-width="0.45"/>
<circle cx="127.95" cy="168.9" r="1" fill="none" stroke="#9dbdea" stroke-width="0.45"/>
<circle cx="129.4" cy="168.9" r="1" fill="none" stroke="#9dbdea" stroke-width="0.45"/>
<circle cx="130.85" cy="168.9" r="1" fill="none" stroke="#9dbdea" stroke-width="0.45"/>
<circle cx="132.3" cy="168.9" r="1" fill="none" stroke="#9dbdea" stroke-width="0.45"/>
<circle cx="133.75" cy="168.9" r="1" fill="none" stroke="#9dbdea" stroke-width="0.45"/>
<circle cx="135.2" cy="168.9" r="1" fill="none" stroke="#9dbdea" stroke-width="0.45"/>
<circle cx="136.65" cy="168.9" r="1" fill="none" stroke="#9dbdea" stroke-width="0.45"/>
<circle cx="138.1" cy="168.9" r="1" fill="none" stroke="#9dbdea" stroke-width="0.45"/>
<circle cx="139.55" cy="168.9" r="1" fill="none" stroke="#9dbdea" stroke-width="0.45"/>
<circle cx="141" cy="168.9" r="1" fill="none" stroke="#9dbdea" stroke-width="0.45"/>
<circle cx="142.45" cy="168.9" r="1" fill="none" stroke="#9dbdea" stroke-width="0.45"/>
<circle cx="143.9" cy="168.9" r="1" fill="none" stroke="#9dbdea" stroke-width="0.45"/>
<circle cx="145.35" cy="168.9" r="1" fill="none" stroke="#9dbdea" stroke-width="0.45"/>
<circle cx="146.8" cy="168.9" r="1" fill="none" stroke="#9dbdea" stroke-width="0.45"/>
<circle cx="148.25" cy="168.9" r="1" fill="none" stroke="#9dbdea" stroke-width="0.45"/>
<circle cx="149.7" cy="168.9" r="1" fill="none" stroke="#9dbdea" stroke-width="0.45"/>
<circle cx="151.15" cy="168.9" r="1" fill="none" stroke="#9dbdea" stroke-width="0.45"/>
<circle cx="152.6" cy="168.9" r="1" fill="none" stroke="#9dbdea" stroke-width="0.45"/>
<circle cx="154.05" cy="168.9" r="1" fill="none" stroke="#9dbdea" stroke-width="0.45"/>
<circle cx="155.5" cy="168.9" r="1" fill="none" stroke="#9dbdea" stroke-width="0.45"/>
<circle cx="156.95" cy="168.9" r="1" fill="none" stroke="#9dbdea" stroke-width="0.45"/>
<circle cx="158.4" cy="168.9" r="1" fill="none" stroke="#9dbdea" stroke-width="0.45"/>
<circle cx="159.85" cy="168.9" r="1" fill="none" stroke="#9dbdea" stroke-width="0.45"/>
<circle cx="161.3" cy="168.9" r="1" fill="none" stroke="#9dbdea" stroke-width="0.45"/>
<circle cx="162.75" cy="168.9" r="1" fill="none" stroke="#9dbdea" stroke-width="0.45"/>
<circle cx="164.2" cy="168.9" r="1" fill="none" stroke="#9dbdea" stroke-width="0.45"/>
<circle cx="165.65" cy="168.9" r="1" fill="none" stroke="#9dbdea" stroke-width="0.45"/>
<circle cx="167.1" cy="168.9" r="1" fill="none" stroke="#9dbdea" stroke-width="0.45"/>
<circle cx="168.55" cy="168.9" r="1" fill="none" stroke="#9dbdea" stroke-width="0.45"/>
<circle cx="170" cy="168.9" r="1" fill="none" stroke="#9dbdea" stroke-width="0.45"/>
<circle cx="171.45" cy="168.9" r="1" fill="none" stroke="#9dbdea" stroke-width="0.45"/>
<circle cx="172.9" cy="168.9" r="1" fill="none" stroke="#9dbdea" stroke-width="0.45"/>
<circle cx="174.35" cy="168.9" r="1" fill="none" stroke="#9dbdea" stroke-width="0.45"/>
<circle cx="175.8" cy="168.9" r="1" fill="none" stroke="#9dbdea" stroke-width="0.45"/>
<circle cx="177.25" cy="168.9" r="1" fill="none" stroke="#9dbdea" stroke-width="0.45"/>
<circle cx="36.3" cy="168.3" r="1" fill="none" stroke="#f2803a" stroke-width="0.6"/>
<circle cx="37.75" cy="168.3" r="1" fill="none" stroke="#f2803a" stroke-width="0.6"/>
<circle cx="39.2" cy="168.3" r="1" fill="none" stroke="#f2803a" stroke-width="0.6"/>
<circle cx="40.65" cy="168.3" r="1" fill="none" stroke="#f2803a" stroke-width="0.6"/>
<circle cx="42.1" cy="168.3" r="1" fill="none" stroke="#f2803a" stroke-width="0.6"/>
<circle cx="43.55" cy="168.3" r="1" fill="none" stroke="#f2803a" stroke-width="0.6"/>
<circle cx="45" cy="168.3" r="1" fill="none" stroke="#f2803a" stroke-width="0.6"/>
<circle cx="46.45" cy="168.3" r="1" fill="none" stroke="#f2803a" stroke-width="0.6"/>
<circle cx="47.9" cy="168.3" r="1" fill="none" stroke="#f2803a" stroke-width="0.6"/>
<circle cx="49.35" cy="168.3" r="1" fill="none" stroke="#f2803a" stroke-width="0.6"/>
<circle cx="50.8" cy="168.3" r="1" fill="none" stroke="#f2803a" stroke-width="0.6"/>
<circle cx="52.25" cy="168.3" r="1" fill="none" stroke="#f2803a" stroke-width="0.6"/>
<circle cx="53.7" cy="168.3" r="1" fill="none" stroke="#f2803a" stroke-width="0.6"/>
<circle cx="55.15" cy="168.3" r="1" fill="none" stroke="#f2803a" stroke-width="0.6"/>
<circle cx="56.6" cy="168.3" r="1" fill="none" stroke="#f2803a" stroke-width="0.6"/>
<circle cx="58.05" cy="168.3" r="1" fill="none" stroke="#f2803a" stroke-width="0.6"/>
<circle cx="59.5" cy="168.3" r="1" fill="none" stroke="#f2803a" stroke-width="0.6"/>
<circle cx="60.95" cy="168.3" r="1" fill="none" stroke="#f2803a" stroke-width="0.6"/>
<circle cx="62.4" cy="168.3" r="1" fill="none" stroke="#f2803a" stroke-width="0.6"/>
<circle cx="63.85" cy="168.3" r="1" fill="none" stroke="#f2803a" stroke-width="0.6"/>
<circle cx="65.3" cy="168.3" r="1" fill="none" stroke="#f2803a" stroke-width="0.6"/>
<circle cx="66.75" cy="168.3" r="1" fill="none" stroke="#f2803a" stroke-width="0.6"/>
<circle cx="68.2" cy="168.3" r="1" fill="none" stroke="#f2803a" stroke-width="0.6"/>
<circle cx="69.65" cy="168.3" r="1" fill="none" stroke="#f2803a" stroke-width="0.6"/>
<circle cx="71.1" cy="168.3" r="1" fill="none" stroke="#f2803a" stroke-width="0.6"/>
<circle cx="72.55" cy="168.3" r="1" fill="none" stroke="#f2803a" stroke-width="0.6"/>
<circle cx="74" cy="168.3" r="1" fill="none" stroke="#f2803a" stroke-width="0.6"/>
<circle cx="75.45" cy="168.3" r="1" fill="none" stroke="#f2803a" stroke-width="0.6"/>
<circle cx="76.9" cy="168.3" r="1" fill="none" stroke="#f2803a" stroke-width="0.6"/>
<circle cx="78.35" cy="168.3" r="1" fill="none" stroke="#f2803a" stroke-width="0.6"/>
<circle cx="79.8" cy="168.3" r="1" fill="none" stroke="#f2803a" stroke-width="0.6"/>
<circle cx="81.25" cy="168.3" r="1" fill="none" stroke="#f2803a" stroke-width="0.6"/>
<circle cx="82.7" cy="168.3" r="1" fill="none" stroke="#f2803a" stroke-width="0.6"/>
<circle cx="84.15" cy="168.3" r="1" fill="none" stroke="#f2803a" stroke-width="0.6"/>
<circle cx="85.6" cy="168.3" r="1" fill="none" stroke="#f2803a" stroke-width="0.6"/>
<circle cx="87.05" cy="168.3" r="1" fill="none" stroke="#f2803a" stroke-width="0.6"/>
<circle cx="88.5" cy="168.3" r="1" fill="none" stroke="#f2803a" stroke-width="0.6"/>
<circle cx="89.95" cy="168.3" r="1" fill="none" stroke="#f2803a" stroke-width="0.6"/>
<circle cx="91.4" cy="168.3" r="1" fill="none" stroke="#f2803a" stroke-width="0.6"/>
<circle cx="92.85" cy="168.3" r="1" fill="none" stroke="#f2803a" stroke-width="0.6"/>
<circle cx="94.3" cy="168.3" r="1" fill="none" stroke="#f2803a" stroke-width="0.6"/>
<circle cx="95.75" cy="168.3" r="1" fill="none" stroke="#f2803a" stroke-width="0.6"/>
<circle cx="97.2" cy="168.3" r="1" fill="none" stroke="#f2803a" stroke-width="0.6"/>
<circle cx="98.65" cy="168.3" r="1" fill="none" stroke="#f2803a" stroke-width="0.6"/>
<circle cx="100.1" cy="168.3" r="1" fill="none" stroke="#f2803a" stroke-width="0.6"/>
<circle cx="101.55" cy="168.3" r="1" fill="none" stroke="#f2803a" stroke-width="0.6"/>
<circle cx="103" cy="168.3" r="1" fill="none" stroke="#f2803a" stroke-width="0.6"/>
<circle cx="104.45" cy="168.3" r="1" fill="none" stroke="#f2803a" stroke-width="0.6"/>
<circle cx="105.9" cy="168.3" r="1" fill="none" stroke="#f2803a" stroke-width="0.6"/>
<circle cx="107.35" cy="168.3" r="1" fill="none" stroke="#f2803a" stroke-width="0.6"/>
<circle cx="108.8" cy="168.3" r="1" fill="none" stroke="#f2803a" stroke-width="0.6"/>
<circle cx="110.25" cy="168.3" r="1" fill="none" stroke="#f2803a" stroke-width="0.6"/>
<circle cx="111.7" cy="168.3" r="1" fill="none" stroke="#f2803a" stroke-width="0.6"/>
<circle cx="113.15" cy="168.3" r="1" fill="none" stroke="#f2803a" stroke-width="0.6"/>
<circle cx="114.6" cy="168.3" r="1" fill="none" stroke="#f2803a" stroke-width="0.6"/>
<circle cx="116.05" cy="168.3" r="1" fill="none" stroke="#f2803a" stroke-width="0.6"/>
<circle cx="117.5" cy="168.3" r="1" fill="none" stroke="#f2803a" stroke-width="0.6"/>
<circle cx="118.95" cy="168.3" r="1" fill="none" stroke="#f2803a" stroke-width="0.6"/>
<circle cx="120.4" cy="168.3" r="1" fill="none" stroke="#f2803a" stroke-width="0.6"/>
<circle cx="121.85" cy="168.3" r="1" fill="none" stroke="#f2803a" stroke-width="0.6"/>
<circle cx="123.3" cy="168.3" r="1" fill="none" stroke="#f2803a" stroke-width="0.6"/>
<circle cx="124.75" cy="168.3" r="1" fill="none" stroke="#f2803a" stroke-width="0.6"/>
<circle cx="126.2" cy="168.3" r="1" fill="none" stroke="#f2803a" stroke-width="0.6"/>
<circle cx="127.65" cy="168.3" r="1" fill="none" stroke="#f2803a" stroke-width="0.6"/>
<circle cx="129.1" cy="168.3" r="1" fill="none" stroke="#f2803a" stroke-width="0.6"/>
<circle cx="130.55" cy="168.3" r="1" fill="none" stroke="#f2803a" stroke-width="0.6"/>
<circle cx="132" cy="168.3" r="1" fill="none" stroke="#f2803a" stroke-width="0.6"/>
<circle cx="133.45" cy="168.3" r="1" fill="none" stroke="#f2803a" stroke-width="0.6"/>
<circle cx="134.9" cy="168.3" r="1" fill="none" stroke="#f2803a" stroke-width="0.6"/>
<circle cx="136.35" cy="168.3" r="1" fill="none" stroke="#f2803a" stroke-width="0.6"/>
<circle cx="137.8" cy="168.3" r="1" fill="none" stroke="#f2803a" stroke-width="0.6"/>
<circle cx="139.25" cy="168.3" r="1" fill="none" stroke="#f2803a" stroke-width="0.6"/>
<circle cx="140.7" cy="168.3" r="1" fill="none" stroke="#f2803a" stroke-width="0.6"/>
<circle cx="142.15" cy="168.3" r="1" fill="none" stroke="#f2803a" stroke-width="0.6"/>
<circle cx="143.6" cy="168.3" r="1" fill="none" stroke="#f2803a" stroke-width="0.6"/>
<circle cx="145.05" cy="168.3" r="1" fill="none" stroke="#f2803a" stroke-width="0.6"/>
<circle cx="146.5" cy="168.3" r="1" fill="none" stroke="#f2803a" stroke-width="0.6"/>
<circle cx="147.95" cy="168.3" r="1" fill="none" stroke="#f2803a" stroke-width="0.6"/>
<circle cx="149.4" cy="168.3" r="1" fill="none" stroke="#f2803a" stroke-width="0.6"/>
<circle cx="150.85" cy="168.3" r="1" fill="none" stroke="#f2803a" stroke-width="0.6"/>
<circle cx="152.3" cy="168.3" r="1" fill="none" stroke="#f2803a" stroke-width="0.6"/>
<circle cx="153.75" cy="168.3" r="1" fill="none" stroke="#f2803a" stroke-width="0.6"/>
<circle cx="155.2" cy="168.3" r="1" fill="none" stroke="#f2803a" stroke-width="0.6"/>
<circle cx="156.65" cy="168.3" r="1" fill="none" stroke="#f2803a" stroke-width="0.6"/>
<circle cx="158.1" cy="168.3" r="1" fill="none" stroke="#f2803a" stroke-width="0.6"/>
<circle cx="159.55" cy="168.3" r="1" fill="none" stroke="#f2803a" stroke-width="0.6"/>
<circle cx="161" cy="168.3" r="1" fill="none" stroke="#f2803a" stroke-width="0.6"/>
<circle cx="162.45" cy="168.3" r="1" fill="none" stroke="#f2803a" stroke-width="0.6"/>
<circle cx="163.9" cy="168.3" r="1" fill="none" stroke="#f2803a" stroke-width="0.6"/>
<circle cx="165.35" cy="168.3" r="1" fill="none" stroke="#f2803a" stroke-width="0.6"/>
<circle cx="166.8" cy="168.3" r="1" fill="none" stroke="#f2803a" stroke-width="0.6"/>
<circle cx="168.25" cy="168.3" r="1" fill="none" stroke="#f2803a" stroke-width="0.6"/>
<circle cx="169.7" cy="168.3" r="1" fill="none" stroke="#f2803a" stroke-width="0.6"/>
<circle cx="171.15" cy="168.3" r="1" fill="none" stroke="#f2803a" stroke-width="0.6"/>
<circle cx="172.6" cy="168.3" r="1" fill="none" stroke="#f2803a" stroke-width="0.6"/>
<circle cx="174.05" cy="168.3" r="1" fill="none" stroke="#f2803a" stroke-width="0.6"/>
<circle cx="175.5" cy="168.3" r="1" fill="none" stroke="#f2803a" stroke-width="0.6"/>
<circle cx="176.95" cy="168.3" r="1" fill="none" stroke="#f2803a" stroke-width="0.6"/>
<circle cx="178.4" cy="168.3" r="1" fill="none" stroke="#f2803a" stroke-width="0.6"/>
<circle cx="37.5" cy="179.8" r="1.25" fill="#5a90dc" stroke="none" stroke-width="0"/>
<circle cx="38.4" cy="180.1" r="1.25" fill="#5a90dc" stroke="none" stroke-width="0"/>
<circle cx="39.3" cy="180.4" r="1.25" fill="#5a90dc" stroke="none" stroke-width="0"/>
<circle cx="40.2" cy="180.71" r="1.25" fill="#5a90dc" stroke="none" stroke-width="0"/>
<circle cx="41.1" cy="181.01" r="1.25" fill="#5a90dc" stroke="none" stroke-width="0"/>
<circle cx="42" cy="181.31" r="1.25" fill="#5a90dc" stroke="none" stroke-width="0"/>
<circle cx="42.9" cy="181.61" r="1.25" fill="#5a90dc" stroke="none" stroke-width="0"/>
<circle cx="43.8" cy="181.92" r="1.25" fill="#5a90dc" stroke="none" stroke-width="0"/>
<circle cx="44.7" cy="182.22" r="1.25" fill="#5a90dc" stroke="none" stroke-width="0"/>
<circle cx="45.6" cy="182.52" r="1.25" fill="#5a90dc" stroke="none" stroke-width="0"/>
<circle cx="46.5" cy="182.82" r="1.25" fill="#5a90dc" stroke="none" stroke-width="0"/>
<circle cx="47.4" cy="183.13" r="1.25" fill="#5a90dc" stroke="none" stroke-width="0"/>
<circle cx="48.3" cy="183.43" r="1.25" fill="#5a90dc" stroke="none" stroke-width="0"/>
<circle cx="49.2" cy="183.73" r="1.25" fill="#5a90dc" stroke="none" stroke-width="0"/>
<circle cx="50.1" cy="184.03" r="1.25" fill="#5a90dc" stroke="none" stroke-width="0"/>
<circle cx="51" cy="184.25" r="1.25" fill="#5a90dc" stroke="none" stroke-width="0"/>
<circle cx="51.9" cy="184.47" r="1.25" fill="#5a90dc" stroke="none" stroke-width="0"/>
<circle cx="52.8" cy="184.7" r="1.25" fill="#5a90dc" stroke="none" stroke-width="0"/>
<circle cx="53.7" cy="184.92" r="1.25" fill="#5a90dc" stroke="none" stroke-width="0"/>
<circle cx="54.6" cy="185.15" r="1.25" fill="#5a90dc" stroke="none" stroke-width="0"/>
<circle cx="55.5" cy="185.38" r="1.25" fill="#5a90dc" stroke="none" stroke-width="0"/>
<circle cx="56.4" cy="185.6" r="1.25" fill="#5a90dc" stroke="none" stroke-width="0"/>
<circle cx="57.3" cy="185.82" r="1.25" fill="#5a90dc" stroke="none" stroke-width="0"/>
<circle cx="58.2" cy="186.05" r="1.25" fill="#5a90dc" stroke="none" stroke-width="0"/>
<circle cx="59.1" cy="186.27" r="1.25" fill="#5a90dc" stroke="none" stroke-width="0"/>
<circle cx="60" cy="186.5" r="1.25" fill="#5a90dc" stroke="none" stroke-width="0"/>
<circle cx="60.9" cy="186.68" r="1.25" fill="#5a90dc" stroke="none" stroke-width="0"/>
<circle cx="61.8" cy="186.87" r="1.25" fill="#5a90dc" stroke="none" stroke-width="0"/>
<circle cx="62.7" cy="187.05" r="1.25" fill="#5a90dc" stroke="none" stroke-width="0"/>
<circle cx="63.6" cy="187.24" r="1.25" fill="#5a90dc" stroke="none" stroke-width="0"/>
<circle cx="64.5" cy="187.42" r="1.25" fill="#5a90dc" stroke="none" stroke-width="0"/>
<circle cx="65.4" cy="187.61" r="1.25" fill="#5a90dc" stroke="none" stroke-width="0"/>
<circle cx="66.3" cy="187.79" r="1.25" fill="#5a90dc" stroke="none" stroke-width="0"/>
<circle cx="67.2" cy="187.98" r="1.25" fill="#5a90dc" stroke="none" stroke-width="0"/>
<circle cx="68.1" cy="188.16" r="1.25" fill="#5a90dc" stroke="none" stroke-width="0"/>
<circle cx="69" cy="188.34" r="1.25" fill="#5a90dc" stroke="none" stroke-width="0"/>
<circle cx="69.9" cy="188.53" r="1.25" fill="#5a90dc" stroke="none" stroke-width="0"/>
<circle cx="70.8" cy="188.71" r="1.25" fill="#5a90dc" stroke="none" stroke-width="0"/>
<circle cx="71.7" cy="188.9" r="1.25" fill="#5a90dc" stroke="none" stroke-width="0"/>
<circle cx="72.6" cy="189.08" r="1.25" fill="#5a90dc" stroke="none" stroke-width="0"/>
<circle cx="73.5" cy="189.27" r="1.25" fill="#5a90dc" stroke="none" stroke-width="0"/>
<circle cx="74.4" cy="189.45" r="1.25" fill="#5a90dc" stroke="none" stroke-width="0"/>
<circle cx="75.3" cy="189.64" r="1.25" fill="#5a90dc" stroke="none" stroke-width="0"/>
<circle cx="76.2" cy="189.82" r="1.25" fill="#5a90dc" stroke="none" stroke-width="0"/>
<circle cx="77.1" cy="190.01" r="1.25" fill="#5a90dc" stroke="none" stroke-width="0"/>
<circle cx="78" cy="190.19" r="1.25" fill="#5a90dc" stroke="none" stroke-width="0"/>
<circle cx="78.9" cy="190.37" r="1.25" fill="#5a90dc" stroke="none" stroke-width="0"/>
<circle cx="79.8" cy="190.56" r="1.25" fill="#5a90dc" stroke="none" stroke-width="0"/>
<circle cx="80.7" cy="190.71" r="1.25" fill="#5a90dc" stroke="none" stroke-width="0"/>
<circle cx="81.6" cy="190.86" r="1.25" fill="#5a90dc" stroke="none" stroke-width="0"/>
<circle cx="82.5" cy="191" r="1.25" fill="#5a90dc" stroke="none" stroke-width="0"/>
<circle cx="83.4" cy="191.14" r="1.25" fill="#5a90dc" stroke="none" stroke-width="0"/>
<circle cx="84.3" cy="191.29" r="1.25" fill="#5a90dc" stroke="none" stroke-width="0"/>
<circle cx="85.2" cy="191.43" r="1.25" fill="#5a90dc" stroke="none" stroke-width="0"/>
<circle cx="86.1" cy="191.58" r="1.25" fill="#5a90dc" stroke="none" stroke-width="0"/>
<circle cx="87" cy="191.72" r="1.25" fill="#5a90dc" stroke="none" stroke-width="0"/>
<circle cx="87.9" cy="191.86" r="1.25" fill="#5a90dc" stroke="none" stroke-width="0"/>
<circle cx="88.8" cy="192.01" r="1.25" fill="#5a90dc" stroke="none" stroke-width="0"/>
<circle cx="89.7" cy="192.15" r="1.25" fill="#5a90dc" stroke="none" stroke-width="0"/>
<circle cx="90.6" cy="192.3" r="1.25" fill="#5a90dc" stroke="none" stroke-width="0"/>
<circle cx="91.5" cy="192.44" r="1.25" fill="#5a90dc" stroke="none" stroke-width="0"/>
<circle cx="92.4" cy="192.58" r="1.25" fill="#5a90dc" stroke="none" stroke-width="0"/>
<circle cx="93.3" cy="192.73" r="1.25" fill="#5a90dc" stroke="none" stroke-width="0"/>
<circle cx="94.2" cy="192.87" r="1.25" fill="#5a90dc" stroke="none" stroke-width="0"/>
<circle cx="95.1" cy="193.02" r="1.25" fill="#5a90dc" stroke="none" stroke-width="0"/>
<circle cx="96" cy="193.16" r="1.25" fill="#5a90dc" stroke="none" stroke-width="0"/>
<circle cx="96.9" cy="193.3" r="1.25" fill="#5a90dc" stroke="none" stroke-width="0"/>
<circle cx="97.8" cy="193.45" r="1.25" fill="#5a90dc" stroke="none" stroke-width="0"/>
<circle cx="98.7" cy="193.59" r="1.25" fill="#5a90dc" stroke="none" stroke-width="0"/>
<circle cx="99.6" cy="193.74" r="1.25" fill="#5a90dc" stroke="none" stroke-width="0"/>
<circle cx="100.5" cy="193.86" r="1.25" fill="#5a90dc" stroke="none" stroke-width="0"/>
<circle cx="101.4" cy="193.98" r="1.25" fill="#5a90dc" stroke="none" stroke-width="0"/>
<circle cx="102.3" cy="194.09" r="1.25" fill="#5a90dc" stroke="none" stroke-width="0"/>
<circle cx="103.2" cy="194.2" r="1.25" fill="#5a90dc" stroke="none" stroke-width="0"/>
<circle cx="104.1" cy="194.31" r="1.25" fill="#5a90dc" stroke="none" stroke-width="0"/>
<circle cx="105" cy="194.43" r="1.25" fill="#5a90dc" stroke="none" stroke-width="0"/>
<circle cx="105.9" cy="194.54" r="1.25" fill="#5a90dc" stroke="none" stroke-width="0"/>
<circle cx="106.8" cy="194.65" r="1.25" fill="#5a90dc" stroke="none" stroke-width="0"/>
<circle cx="107.7" cy="194.76" r="1.25" fill="#5a90dc" stroke="none" stroke-width="0"/>
<circle cx="108.6" cy="194.88" r="1.25" fill="#5a90dc" stroke="none" stroke-width="0"/>
<circle cx="109.5" cy="194.99" r="1.25" fill="#5a90dc" stroke="none" stroke-width="0"/>
<circle cx="110.4" cy="195.1" r="1.25" fill="#5a90dc" stroke="none" stroke-width="0"/>
<circle cx="111.3" cy="195.21" r="1.25" fill="#5a90dc" stroke="none" stroke-width="0"/>
<circle cx="112.2" cy="195.33" r="1.25" fill="#5a90dc" stroke="none" stroke-width="0"/>
<circle cx="113.1" cy="195.44" r="1.25" fill="#5a90dc" stroke="none" stroke-width="0"/>
<circle cx="114" cy="195.55" r="1.25" fill="#5a90dc" stroke="none" stroke-width="0"/>
<circle cx="114.9" cy="195.66" r="1.25" fill="#5a90dc" stroke="none" stroke-width="0"/>
<circle cx="115.8" cy="195.78" r="1.25" fill="#5a90dc" stroke="none" stroke-width="0"/>
<circle cx="116.7" cy="195.89" r="1.25" fill="#5a90dc" stroke="none" stroke-width="0"/>
<circle cx="117.6" cy="196" r="1.25" fill="#5a90dc" stroke="none" stroke-width="0"/>
<circle cx="118.5" cy="196.11" r="1.25" fill="#5a90dc" stroke="none" stroke-width="0"/>
<circle cx="119.4" cy="196.23" r="1.25" fill="#5a90dc" stroke="none" stroke-width="0"/>
<circle cx="120.3" cy="196.33" r="1.25" fill="#5a90dc" stroke="none" stroke-width="0"/>
<circle cx="121.2" cy="196.41" r="1.25" fill="#5a90dc" stroke="none" stroke-width="0"/>
<circle cx="122.1" cy="196.5" r="1.25" fill="#5a90dc" stroke="none" stroke-width="0"/>
<circle cx="123" cy="196.59" r="1.25" fill="#5a90dc" stroke="none" stroke-width="0"/>
<circle cx="123.9" cy="196.67" r="1.25" fill="#5a90dc" stroke="none" stroke-width="0"/>
<circle cx="124.8" cy="196.76" r="1.25" fill="#5a90dc" stroke="none" stroke-width="0"/>
<circle cx="125.7" cy="196.84" r="1.25" fill="#5a90dc" stroke="none" stroke-width="0"/>
<circle cx="126.6" cy="196.93" r="1.25" fill="#5a90dc" stroke="none" stroke-width="0"/>
<circle cx="127.5" cy="197.01" r="1.25" fill="#5a90dc" stroke="none" stroke-width="0"/>
<circle cx="128.4" cy="197.1" r="1.25" fill="#5a90dc" stroke="none" stroke-width="0"/>
<circle cx="129.3" cy="197.18" r="1.25" fill="#5a90dc" stroke="none" stroke-width="0"/>
<circle cx="130.2" cy="197.27" r="1.25" fill="#5a90dc" stroke="none" stroke-width="0"/>
<circle cx="131.1" cy="197.35" r="1.25" fill="#5a90dc" stroke="none" stroke-width="0"/>
<circle cx="132" cy="197.44" r="1.25" fill="#5a90dc" stroke="none" stroke-width="0"/>
<circle cx="132.9" cy="197.53" r="1.25" fill="#5a90dc" stroke="none" stroke-width="0"/>
<circle cx="133.8" cy="197.61" r="1.25" fill="#5a90dc" stroke="none" stroke-width="0"/>
<circle cx="134.7" cy="197.7" r="1.25" fill="#5a90dc" stroke="none" stroke-width="0"/>
<circle cx="135.6" cy="197.78" r="1.25" fill="#5a90dc" stroke="none" stroke-width="0"/>
<circle cx="136.5" cy="197.87" r="1.25" fill="#5a90dc" stroke="none" stroke-width="0"/>
<circle cx="137.4" cy="197.95" r="1.25" fill="#5a90dc" stroke="none" stroke-width="0"/>
<circle cx="138.3" cy="198.04" r="1.25" fill="#5a90dc" stroke="none" stroke-width="0"/>
<circle cx="139.2" cy="198.12" r="1.25" fill="#5a90dc" stroke="none" stroke-width="0"/>
<circle cx="140.1" cy="198.21" r="1.25" fill="#5a90dc" stroke="none" stroke-width="0"/>
<circle cx="141" cy="198.27" r="1.25" fill="#5a90dc" stroke="none" stroke-width="0"/>
<circle cx="141.9" cy="198.33" r="1.25" fill="#5a90dc" stroke="none" stroke-width="0"/>
<circle cx="142.8" cy="198.4" r="1.25" fill="#5a90dc" stroke="none" stroke-width="0"/>
<circle cx="143.7" cy="198.46" r="1.25" fill="#5a90dc" stroke="none" stroke-width="0"/>
<circle cx="144.6" cy="198.52" r="1.25" fill="#5a90dc" stroke="none" stroke-width="0"/>
<circle cx="145.5" cy="198.59" r="1.25" fill="#5a90dc" stroke="none" stroke-width="0"/>
<circle cx="146.4" cy="198.65" r="1.25" fill="#5a90dc" stroke="none" stroke-width="0"/>
<circle cx="147.3" cy="198.71" r="1.25" fill="#5a90dc" stroke="none" stroke-width="0"/>
<circle cx="148.2" cy="198.77" r="1.25" fill="#5a90dc" stroke="none" stroke-width="0"/>
<circle cx="149.1" cy="198.84" r="1.25" fill="#5a90dc" stroke="none" stroke-width="0"/>
<circle cx="150" cy="198.9" r="1.25" fill="#5a90dc" stroke="none" stroke-width="0"/>
<circle cx="150.9" cy="198.96" r="1.25" fill="#5a90dc" stroke="none" stroke-width="0"/>
<circle cx="151.8" cy="199.03" r="1.25" fill="#5a90dc" stroke="none" stroke-width="0"/>
<circle cx="152.7" cy="199.09" r="1.25" fill="#5a90dc" stroke="none" stroke-width="0"/>
<circle cx="153.6" cy="199.15" r="1.25" fill="#5a90dc" stroke="none" stroke-width="0"/>
<circle cx="154.5" cy="199.22" r="1.25" fill="#5a90dc" stroke="none" stroke-width="0"/>
<circle cx="155.4" cy="199.28" r="1.25" fill="#5a90dc" stroke="none" stroke-width="0"/>
<circle cx="156.3" cy="199.34" r="1.25" fill="#5a90dc" stroke="none" stroke-width="0"/>
<circle cx="157.2" cy="199.4" r="1.25" fill="#5a90dc" stroke="none" stroke-width="0"/>
<circle cx="158.1" cy="199.47" r="1.25" fill="#5a90dc" stroke="none" stroke-width="0"/>
<circle cx="159" cy="199.53" r="1.25" fill="#5a90dc" stroke="none" stroke-width="0"/>
<circle cx="159.9" cy="199.59" r="1.25" fill="#5a90dc" stroke="none" stroke-width="0"/>
<circle cx="160.8" cy="199.65" r="1.25" fill="#5a90dc" stroke="none" stroke-width="0"/>
<circle cx="161.7" cy="199.71" r="1.25" fill="#5a90dc" stroke="none" stroke-width="0"/>
<circle cx="162.6" cy="199.77" r="1.25" fill="#5a90dc" stroke="none" stroke-width="0"/>
<circle cx="163.5" cy="199.83" r="1.25" fill="#5a90dc" stroke="none" stroke-width="0"/>
<circle cx="164.4" cy="199.89" r="1.25" fill="#5a90dc" stroke="none" stroke-width="0"/>
<circle cx="165.3" cy="199.95" r="1.25" fill="#5a90dc" stroke="none" stroke-width="0"/>
<circle cx="166.2" cy="200.01" r="1.25" fill="#5a90dc" stroke="none" stroke-width="0"/>
<circle cx="167.1" cy="200.07" r="1.25" fill="#5a90dc" stroke="none" stroke-width="0"/>
<circle cx="168" cy="200.12" r="1.25" fill="#5a90dc" stroke="none" stroke-width="0"/>
<circle cx="168.9" cy="200.18" r="1.25" fill="#5a90dc" stroke="none" stroke-width="0"/>
<circle cx="169.8" cy="200.24" r="1.25" fill="#5a90dc" stroke="none" stroke-width="0"/>
<circle cx="170.7" cy="200.3" r="1.25" fill="#5a90dc" stroke="none" stroke-width="0"/>
<circle cx="171.6" cy="200.36" r="1.25" fill="#5a90dc" stroke="none" stroke-width="0"/>
<circle cx="172.5" cy="200.42" r="1.25" fill="#5a90dc" stroke="none" stroke-width="0"/>
<circle cx="173.4" cy="200.48" r="1.25" fill="#5a90dc" stroke="none" stroke-width="0"/>
<circle cx="174.3" cy="200.54" r="1.25" fill="#5a90dc" stroke="none" stroke-width="0"/>
<circle cx="175.2" cy="200.6" r="1.25" fill="#5a90dc" stroke="none" stroke-width="0"/>
<circle cx="176.1" cy="200.66" r="1.25" fill="#5a90dc" stroke="none" stroke-width="0"/>
<circle cx="177" cy="200.71" r="1.25" fill="#5a90dc" stroke="none" stroke-width="0"/>
<circle cx="177.9" cy="200.77" r="1.25" fill="#5a90dc" stroke="none" stroke-width="0"/>
<circle cx="37.5" cy="192.9" r="1.25" fill="#f27a2a" stroke="none" stroke-width="0"/>
<circle cx="38.4" cy="192.96" r="1.25" fill="#f27a2a" stroke="none" stroke-width="0"/>
<circle cx="39.3" cy="193.01" r="1.25" fill="#f27a2a" stroke="none" stroke-width="0"/>
<circle cx="40.2" cy="193.07" r="1.25" fill="#f27a2a" stroke="none" stroke-width="0"/>
<circle cx="41.1" cy="193.12" r="1.25" fill="#f27a2a" stroke="none" stroke-width="0"/>
<circle cx="42" cy="193.18" r="1.25" fill="#f27a2a" stroke="none" stroke-width="0"/>
<circle cx="42.9" cy="193.24" r="1.25" fill="#f27a2a" stroke="none" stroke-width="0"/>
<circle cx="43.8" cy="193.29" r="1.25" fill="#f27a2a" stroke="none" stroke-width="0"/>
<circle cx="44.7" cy="193.35" r="1.25" fill="#f27a2a" stroke="none" stroke-width="0"/>
<circle cx="45.6" cy="193.4" r="1.25" fill="#f27a2a" stroke="none" stroke-width="0"/>
<circle cx="46.5" cy="193.46" r="1.25" fill="#f27a2a" stroke="none" stroke-width="0"/>
<circle cx="47.4" cy="193.52" r="1.25" fill="#f27a2a" stroke="none" stroke-width="0"/>
<circle cx="48.3" cy="193.57" r="1.25" fill="#f27a2a" stroke="none" stroke-width="0"/>
<circle cx="49.2" cy="193.63" r="1.25" fill="#f27a2a" stroke="none" stroke-width="0"/>
<circle cx="50.1" cy="193.68" r="1.25" fill="#f27a2a" stroke="none" stroke-width="0"/>
<circle cx="51" cy="193.74" r="1.25" fill="#f27a2a" stroke="none" stroke-width="0"/>
<circle cx="51.9" cy="193.8" r="1.25" fill="#f27a2a" stroke="none" stroke-width="0"/>
<circle cx="52.8" cy="193.85" r="1.25" fill="#f27a2a" stroke="none" stroke-width="0"/>
<circle cx="53.7" cy="193.91" r="1.25" fill="#f27a2a" stroke="none" stroke-width="0"/>
<circle cx="54.6" cy="193.96" r="1.25" fill="#f27a2a" stroke="none" stroke-width="0"/>
<circle cx="55.5" cy="194.02" r="1.25" fill="#f27a2a" stroke="none" stroke-width="0"/>
<circle cx="56.4" cy="194.08" r="1.25" fill="#f27a2a" stroke="none" stroke-width="0"/>
<circle cx="57.3" cy="194.13" r="1.25" fill="#f27a2a" stroke="none" stroke-width="0"/>
<circle cx="58.2" cy="194.19" r="1.25" fill="#f27a2a" stroke="none" stroke-width="0"/>
<circle cx="59.1" cy="194.24" r="1.25" fill="#f27a2a" stroke="none" stroke-width="0"/>
<circle cx="60" cy="194.3" r="1.25" fill="#f27a2a" stroke="none" stroke-width="0"/>
<circle cx="60.9" cy="194.39" r="1.25" fill="#f27a2a" stroke="none" stroke-width="0"/>
<circle cx="61.8" cy="194.47" r="1.25" fill="#f27a2a" stroke="none" stroke-width="0"/>
<circle cx="62.7" cy="194.56" r="1.25" fill="#f27a2a" stroke="none" stroke-width="0"/>
<circle cx="63.6" cy="194.64" r="1.25" fill="#f27a2a" stroke="none" stroke-width="0"/>
<circle cx="64.5" cy="194.73" r="1.25" fill="#f27a2a" stroke="none" stroke-width="0"/>
<circle cx="65.4" cy="194.81" r="1.25" fill="#f27a2a" stroke="none" stroke-width="0"/>
<circle cx="66.3" cy="194.9" r="1.25" fill="#f27a2a" stroke="none" stroke-width="0"/>
<circle cx="67.2" cy="194.98" r="1.25" fill="#f27a2a" stroke="none" stroke-width="0"/>
<circle cx="68.1" cy="195.07" r="1.25" fill="#f27a2a" stroke="none" stroke-width="0"/>
<circle cx="69" cy="195.16" r="1.25" fill="#f27a2a" stroke="none" stroke-width="0"/>
<circle cx="69.9" cy="195.24" r="1.25" fill="#f27a2a" stroke="none" stroke-width="0"/>
<circle cx="70.8" cy="195.33" r="1.25" fill="#f27a2a" stroke="none" stroke-width="0"/>
<circle cx="71.7" cy="195.41" r="1.25" fill="#f27a2a" stroke="none" stroke-width="0"/>
<circle cx="72.6" cy="195.5" r="1.25" fill="#f27a2a" stroke="none" stroke-width="0"/>
<circle cx="73.5" cy="195.58" r="1.25" fill="#f27a2a" stroke="none" stroke-width="0"/>
<circle cx="74.4" cy="195.67" r="1.25" fill="#f27a2a" stroke="none" stroke-width="0"/>
<circle cx="75.3" cy="195.75" r="1.25" fill="#f27a2a" stroke="none" stroke-width="0"/>
<circle cx="76.2" cy="195.84" r="1.25" fill="#f27a2a" stroke="none" stroke-width="0"/>
<circle cx="77.1" cy="195.92" r="1.25" fill="#f27a2a" stroke="none" stroke-width="0"/>
<circle cx="78" cy="196.01" r="1.25" fill="#f27a2a" stroke="none" stroke-width="0"/>
<circle cx="78.9" cy="196.1" r="1.25" fill="#f27a2a" stroke="none" stroke-width="0"/>
<circle cx="79.8" cy="196.18" r="1.25" fill="#f27a2a" stroke="none" stroke-width="0"/>
<circle cx="80.7" cy="196.27" r="1.25" fill="#f27a2a" stroke="none" stroke-width="0"/>
<circle cx="81.6" cy="196.36" r="1.25" fill="#f27a2a" stroke="none" stroke-width="0"/>
<circle cx="82.5" cy="196.45" r="1.25" fill="#f27a2a" stroke="none" stroke-width="0"/>
<circle cx="83.4" cy="196.54" r="1.25" fill="#f27a2a" stroke="none" stroke-width="0"/>
<circle cx="84.3" cy="196.63" r="1.25" fill="#f27a2a" stroke="none" stroke-width="0"/>
<circle cx="85.2" cy="196.72" r="1.25" fill="#f27a2a" stroke="none" stroke-width="0"/>
<circle cx="86.1" cy="196.81" r="1.25" fill="#f27a2a" stroke="none" stroke-width="0"/>
<circle cx="87" cy="196.9" r="1.25" fill="#f27a2a" stroke="none" stroke-width="0"/>
<circle cx="87.9" cy="196.99" r="1.25" fill="#f27a2a" stroke="none" stroke-width="0"/>
<circle cx="88.8" cy="197.08" r="1.25" fill="#f27a2a" stroke="none" stroke-width="0"/>
<circle cx="89.7" cy="197.17" r="1.25" fill="#f27a2a" stroke="none" stroke-width="0"/>
<circle cx="90.6" cy="197.26" r="1.25" fill="#f27a2a" stroke="none" stroke-width="0"/>
<circle cx="91.5" cy="197.35" r="1.25" fill="#f27a2a" stroke="none" stroke-width="0"/>
<circle cx="92.4" cy="197.44" r="1.25" fill="#f27a2a" stroke="none" stroke-width="0"/>
<circle cx="93.3" cy="197.53" r="1.25" fill="#f27a2a" stroke="none" stroke-width="0"/>
<circle cx="94.2" cy="197.62" r="1.25" fill="#f27a2a" stroke="none" stroke-width="0"/>
<circle cx="95.1" cy="197.71" r="1.25" fill="#f27a2a" stroke="none" stroke-width="0"/>
<circle cx="96" cy="197.8" r="1.25" fill="#f27a2a" stroke="none" stroke-width="0"/>
<circle cx="96.9" cy="197.89" r="1.25" fill="#f27a2a" stroke="none" stroke-width="0"/>
<circle cx="97.8" cy="197.98" r="1.25" fill="#f27a2a" stroke="none" stroke-width="0"/>
<circle cx="98.7" cy="198.07" r="1.25" fill="#f27a2a" stroke="none" stroke-width="0"/>
<circle cx="99.6" cy="198.16" r="1.25" fill="#f27a2a" stroke="none" stroke-width="0"/>
<circle cx="100.5" cy="198.25" r="1.25" fill="#f27a2a" stroke="none" stroke-width="0"/>
<circle cx="101.4" cy="198.35" r="1.25" fill="#f27a2a" stroke="none" stroke-width="0"/>
<circle cx="102.3" cy="198.44" r="1.25" fill="#f27a2a" stroke="none" stroke-width="0"/>
<circle cx="103.2" cy="198.54" r="1.25" fill="#f27a2a" stroke="none" stroke-width="0"/>
<circle cx="104.1" cy="198.63" r="1.25" fill="#f27a2a" stroke="none" stroke-width="0"/>
<circle cx="105" cy="198.73" r="1.25" fill="#f27a2a" stroke="none" stroke-width="0"/>
<circle cx="105.9" cy="198.82" r="1.25" fill="#f27a2a" stroke="none" stroke-width="0"/>
<circle cx="106.8" cy="198.91" r="1.25" fill="#f27a2a" stroke="none" stroke-width="0"/>
<circle cx="107.7" cy="199.01" r="1.25" fill="#f27a2a" stroke="none" stroke-width="0"/>
<circle cx="108.6" cy="199.1" r="1.25" fill="#f27a2a" stroke="none" stroke-width="0"/>
<circle cx="109.5" cy="199.2" r="1.25" fill="#f27a2a" stroke="none" stroke-width="0"/>
<circle cx="110.4" cy="199.29" r="1.25" fill="#f27a2a" stroke="none" stroke-width="0"/>
<circle cx="111.3" cy="199.39" r="1.25" fill="#f27a2a" stroke="none" stroke-width="0"/>
<circle cx="112.2" cy="199.48" r="1.25" fill="#f27a2a" stroke="none" stroke-width="0"/>
<circle cx="113.1" cy="199.58" r="1.25" fill="#f27a2a" stroke="none" stroke-width="0"/>
<circle cx="114" cy="199.67" r="1.25" fill="#f27a2a" stroke="none" stroke-width="0"/>
<circle cx="114.9" cy="199.76" r="1.25" fill="#f27a2a" stroke="none" stroke-width="0"/>
<circle cx="115.8" cy="199.86" r="1.25" fill="#f27a2a" stroke="none" stroke-width="0"/>
<circle cx="116.7" cy="199.95" r="1.25" fill="#f27a2a" stroke="none" stroke-width="0"/>
<circle cx="117.6" cy="200.05" r="1.25" fill="#f27a2a" stroke="none" stroke-width="0"/>
<circle cx="118.5" cy="200.14" r="1.25" fill="#f27a2a" stroke="none" stroke-width="0"/>
<circle cx="119.4" cy="200.24" r="1.25" fill="#f27a2a" stroke="none" stroke-width="0"/>
<circle cx="120.3" cy="200.33" r="1.25" fill="#f27a2a" stroke="none" stroke-width="0"/>
<circle cx="121.2" cy="200.43" r="1.25" fill="#f27a2a" stroke="none" stroke-width="0"/>
<circle cx="122.1" cy="200.53" r="1.25" fill="#f27a2a" stroke="none" stroke-width="0"/>
<circle cx="123" cy="200.63" r="1.25" fill="#f27a2a" stroke="none" stroke-width="0"/>
<circle cx="123.9" cy="200.73" r="1.25" fill="#f27a2a" stroke="none" stroke-width="0"/>
<circle cx="124.8" cy="200.83" r="1.25" fill="#f27a2a" stroke="none" stroke-width="0"/>
<circle cx="125.7" cy="200.93" r="1.25" fill="#f27a2a" stroke="none" stroke-width="0"/>
<circle cx="126.6" cy="201.03" r="1.25" fill="#f27a2a" stroke="none" stroke-width="0"/>
<circle cx="127.5" cy="201.13" r="1.25" fill="#f27a2a" stroke="none" stroke-width="0"/>
<circle cx="128.4" cy="201.22" r="1.25" fill="#f27a2a" stroke="none" stroke-width="0"/>
<circle cx="129.3" cy="201.32" r="1.25" fill="#f27a2a" stroke="none" stroke-width="0"/>
<circle cx="130.2" cy="201.42" r="1.25" fill="#f27a2a" stroke="none" stroke-width="0"/>
<circle cx="131.1" cy="201.52" r="1.25" fill="#f27a2a" stroke="none" stroke-width="0"/>
<circle cx="132" cy="201.62" r="1.25" fill="#f27a2a" stroke="none" stroke-width="0"/>
<circle cx="132.9" cy="201.72" r="1.25" fill="#f27a2a" stroke="none" stroke-width="0"/>
<circle cx="133.8" cy="201.82" r="1.25" fill="#f27a2a" stroke="none" stroke-width="0"/>
<circle cx="134.7" cy="201.92" r="1.25" fill="#f27a2a" stroke="none" stroke-width="0"/>
<circle cx="135.6" cy="202.02" r="1.25" fill="#f27a2a" stroke="none" stroke-width="0"/>
<circle cx="136.5" cy="202.12" r="1.25" fill="#f27a2a" stroke="none" stroke-width="0"/>
<circle cx="137.4" cy="202.21" r="1.25" fill="#f27a2a" stroke="none" stroke-width="0"/>
<circle cx="138.3" cy="202.31" r="1.25" fill="#f27a2a" stroke="none" stroke-width="0"/>
<circle cx="139.2" cy="202.41" r="1.25" fill="#f27a2a" stroke="none" stroke-width="0"/>
<circle cx="140.1" cy="202.51" r="1.25" fill="#f27a2a" stroke="none" stroke-width="0"/>
<circle cx="141" cy="202.62" r="1.25" fill="#f27a2a" stroke="none" stroke-width="0"/>
<circle cx="141.9" cy="202.72" r="1.25" fill="#f27a2a" stroke="none" stroke-width="0"/>
<circle cx="142.8" cy="202.82" r="1.25" fill="#f27a2a" stroke="none" stroke-width="0"/>
<circle cx="143.7" cy="202.93" r="1.25" fill="#f27a2a" stroke="none" stroke-width="0"/>
<circle cx="144.6" cy="203.03" r="1.25" fill="#f27a2a" stroke="none" stroke-width="0"/>
<circle cx="145.5" cy="203.13" r="1.25" fill="#f27a2a" stroke="none" stroke-width="0"/>
<circle cx="146.4" cy="203.24" r="1.25" fill="#f27a2a" stroke="none" stroke-width="0"/>
<circle cx="147.3" cy="203.34" r="1.25" fill="#f27a2a" stroke="none" stroke-width="0"/>
<circle cx="148.2" cy="203.44" r="1.25" fill="#f27a2a" stroke="none" stroke-width="0"/>
<circle cx="149.1" cy="203.55" r="1.25" fill="#f27a2a" stroke="none" stroke-width="0"/>
<circle cx="150" cy="203.65" r="1.25" fill="#f27a2a" stroke="none" stroke-width="0"/>
<circle cx="150.9" cy="203.75" r="1.25" fill="#f27a2a" stroke="none" stroke-width="0"/>
<circle cx="151.8" cy="203.86" r="1.25" fill="#f27a2a" stroke="none" stroke-width="0"/>
<circle cx="152.7" cy="203.96" r="1.25" fill="#f27a2a" stroke="none" stroke-width="0"/>
<circle cx="153.6" cy="204.06" r="1.25" fill="#f27a2a" stroke="none" stroke-width="0"/>
<circle cx="154.5" cy="204.17" r="1.25" fill="#f27a2a" stroke="none" stroke-width="0"/>
<circle cx="155.4" cy="204.27" r="1.25" fill="#f27a2a" stroke="none" stroke-width="0"/>
<circle cx="156.3" cy="204.37" r="1.25" fill="#f27a2a" stroke="none" stroke-width="0"/>
<circle cx="157.2" cy="204.48" r="1.25" fill="#f27a2a" stroke="none" stroke-width="0"/>
<circle cx="158.1" cy="204.58" r="1.25" fill="#f27a2a" stroke="none" stroke-width="0"/>
<circle cx="159" cy="204.69" r="1.25" fill="#f27a2a" stroke="none" stroke-width="0"/>
<circle cx="159.9" cy="204.79" r="1.25" fill="#f27a2a" stroke="none" stroke-width="0"/>
<circle cx="160.8" cy="204.92" r="1.25" fill="#f27a2a" stroke="none" stroke-width="0"/>
<circle cx="161.7" cy="205.06" r="1.25" fill="#f27a2a" stroke="none" stroke-width="0"/>
<circle cx="162.6" cy="205.2" r="1.25" fill="#f27a2a" stroke="none" stroke-width="0"/>
<circle cx="163.5" cy="205.34" r="1.25" fill="#f27a2a" stroke="none" stroke-width="0"/>
<circle cx="164.4" cy="205.47" r="1.25" fill="#f27a2a" stroke="none" stroke-width="0"/>
<circle cx="165.3" cy="205.61" r="1.25" fill="#f27a2a" stroke="none" stroke-width="0"/>
<circle cx="166.2" cy="205.75" r="1.25" fill="#f27a2a" stroke="none" stroke-width="0"/>
<circle cx="167.1" cy="205.89" r="1.25" fill="#f27a2a" stroke="none" stroke-width="0"/>
<circle cx="168" cy="206.02" r="1.25" fill="#f27a2a" stroke="none" stroke-width="0"/>
<circle cx="168.9" cy="206.16" r="1.25" fill="#f27a2a" stroke="none" stroke-width="0"/>
<circle cx="169.8" cy="206.3" r="1.25" fill="#f27a2a" stroke="none" stroke-width="0"/>
<circle cx="170.7" cy="206.44" r="1.25" fill="#f27a2a" stroke="none" stroke-width="0"/>
<circle cx="171.6" cy="206.57" r="1.25" fill="#f27a2a" stroke="none" stroke-width="0"/>
<circle cx="172.5" cy="206.71" r="1.25" fill="#f27a2a" stroke="none" stroke-width="0"/>
<circle cx="173.4" cy="206.85" r="1.25" fill="#f27a2a" stroke="none" stroke-width="0"/>
<circle cx="174.3" cy="206.99" r="1.25" fill="#f27a2a" stroke="none" stroke-width="0"/>
<circle cx="175.2" cy="207.13" r="1.25" fill="#f27a2a" stroke="none" stroke-width="0"/>
<circle cx="176.1" cy="207.26" r="1.25" fill="#f27a2a" stroke="none" stroke-width="0"/>
<circle cx="177" cy="207.4" r="1.25" fill="#f27a2a" stroke="none" stroke-width="0"/>
<circle cx="177.9" cy="207.54" r="1.25" fill="#f27a2a" stroke="none" stroke-width="0"/>
<circle cx="37.8" cy="160.5" r="1.4" fill="none" stroke="#6a9ae0" stroke-width="0.8"/>
<circle cx="37.3" cy="161.9" r="1.4" fill="none" stroke="#f0741e" stroke-width="0.8"/>
<circle cx="35.4" cy="166.2" r="1.3" fill="none" stroke="#f0741e" stroke-width="0.8"/>
<circle cx="35.6" cy="170.6" r="1.3" fill="none" stroke="#f0741e" stroke-width="0.8"/>
<circle cx="35" cy="182.6" r="1.4" fill="none" stroke="#f0741e" stroke-width="0.8"/>
<circle cx="173.8" cy="166.9" r="1.4" fill="none" stroke="#6a9ae0" stroke-width="0.8"/>
<circle cx="173.8" cy="169.9" r="1.4" fill="none" stroke="#6a9ae0" stroke-width="0.8"/>
<polyline points="64.6,197.8 64.6,204.2 38.5,204.2" fill="none" stroke="#111" stroke-width="1" stroke-linejoin="round" stroke-linecap="round"/>
<path d="M36.6 204.2 L40.4 202.3 L40.4 206.1 Z" fill="#111"/>
<polyline points="150.1,170.6 150.1,177.5 175.6,177.5" fill="none" stroke="#111" stroke-width="1" stroke-linejoin="round" stroke-linecap="round"/>
<path d="M178 177.5 L174.2 175.6 L174.2 179.4 Z" fill="#111"/>
<circle cx="42.9" cy="254.2" r="1.3" fill="#4a86d6" stroke="none" stroke-width="0"/>
<circle cx="55.2" cy="254.2" r="1.35" fill="none" stroke="#7aa6e4" stroke-width="0.7"/>
<circle cx="42.9" cy="260.9" r="1.3" fill="#f0741e" stroke="none" stroke-width="0"/>
<circle cx="55.2" cy="260.9" r="1.35" fill="none" stroke="#f0741e" stroke-width="0.7"/>
<text x="62.9" y="256.02" font-size="5.35" text-anchor="start" fill="#111" stroke="#111" stroke-width="0.2">PPC-NCM||Li</text>
<text x="62.9" y="262.72" font-size="5.35" text-anchor="start" fill="#111" stroke="#111" stroke-width="0.2">PVDF-NCM||Li</text>
<text x="210" y="155.13" font-size="9.8" text-anchor="middle" fill="#111" stroke="#111" stroke-width="0.36">(d)</text>
<line x1="227.3" y1="148.8" x2="227.3" y2="266.3" stroke="#5a5a5a" stroke-width="1.25"/>
<line x1="372.5" y1="148.8" x2="372.5" y2="266.3" stroke="#5a5a5a" stroke-width="1.25"/>
<line x1="227.3" y1="148.8" x2="372.5" y2="148.8" stroke="#5a5a5a" stroke-width="1.25"/>
<line x1="227.3" y1="266.3" x2="372.5" y2="266.3" stroke="#5a5a5a" stroke-width="1.25"/>
<line x1="227.3" y1="266.3" x2="227.3" y2="268.3" stroke="#5a5a5a" stroke-width="1.25"/>
<line x1="263.58" y1="266.3" x2="263.58" y2="268.3" stroke="#5a5a5a" stroke-width="1.25"/>
<line x1="299.85" y1="266.3" x2="299.85" y2="268.3" stroke="#5a5a5a" stroke-width="1.25"/>
<line x1="336.13" y1="266.3" x2="336.13" y2="268.3" stroke="#5a5a5a" stroke-width="1.25"/>
<line x1="372.4" y1="266.3" x2="372.4" y2="268.3" stroke="#5a5a5a" stroke-width="1.25"/>
<line x1="245.44" y1="266.3" x2="245.44" y2="267.5" stroke="#5a5a5a" stroke-width="1.25"/>
<line x1="281.71" y1="266.3" x2="281.71" y2="267.5" stroke="#5a5a5a" stroke-width="1.25"/>
<line x1="317.99" y1="266.3" x2="317.99" y2="267.5" stroke="#5a5a5a" stroke-width="1.25"/>
<line x1="354.27" y1="266.3" x2="354.27" y2="267.5" stroke="#5a5a5a" stroke-width="1.25"/>
<text x="227.3" y="274.44" font-size="6" text-anchor="middle" fill="#111" stroke="#111" stroke-width="0.22">0</text>
<text x="263.58" y="274.44" font-size="6" text-anchor="middle" fill="#111" stroke="#111" stroke-width="0.22">40</text>
<text x="299.85" y="274.44" font-size="6" text-anchor="middle" fill="#111" stroke="#111" stroke-width="0.22">80</text>
<text x="336.13" y="274.44" font-size="6" text-anchor="middle" fill="#111" stroke="#111" stroke-width="0.22">120</text>
<text x="372.4" y="274.44" font-size="6" text-anchor="middle" fill="#111" stroke="#111" stroke-width="0.22">160</text>
<line x1="227.3" y1="265.4" x2="225.3" y2="265.4" stroke="#5a5a5a" stroke-width="1.25"/>
<text x="223.5" y="267.44" font-size="6" text-anchor="end" fill="#111" stroke="#111" stroke-width="0.22">2.5</text>
<line x1="227.3" y1="240" x2="225.3" y2="240" stroke="#5a5a5a" stroke-width="1.25"/>
<text x="223.5" y="242.04" font-size="6" text-anchor="end" fill="#111" stroke="#111" stroke-width="0.22">3.0</text>
<line x1="227.3" y1="214.6" x2="225.3" y2="214.6" stroke="#5a5a5a" stroke-width="1.25"/>
<text x="223.5" y="216.64" font-size="6" text-anchor="end" fill="#111" stroke="#111" stroke-width="0.22">3.5</text>
<line x1="227.3" y1="189.2" x2="225.3" y2="189.2" stroke="#5a5a5a" stroke-width="1.25"/>
<text x="223.5" y="191.24" font-size="6" text-anchor="end" fill="#111" stroke="#111" stroke-width="0.22">4.0</text>
<line x1="227.3" y1="163.8" x2="225.3" y2="163.8" stroke="#5a5a5a" stroke-width="1.25"/>
<text x="223.5" y="165.84" font-size="6" text-anchor="end" fill="#111" stroke="#111" stroke-width="0.22">4.5</text>
<line x1="227.3" y1="252.7" x2="226.1" y2="252.7" stroke="#5a5a5a" stroke-width="1.25"/>
<line x1="227.3" y1="227.3" x2="226.1" y2="227.3" stroke="#5a5a5a" stroke-width="1.25"/>
<line x1="227.3" y1="201.9" x2="226.1" y2="201.9" stroke="#5a5a5a" stroke-width="1.25"/>
<line x1="227.3" y1="176.5" x2="226.1" y2="176.5" stroke="#5a5a5a" stroke-width="1.25"/>
<line x1="227.3" y1="151.1" x2="226.1" y2="151.1" stroke="#5a5a5a" stroke-width="1.25"/>
<text x="210.4" y="209.94" font-size="5.7" text-anchor="middle" fill="#111" stroke="#111" stroke-width="0.21" transform="rotate(-90 210.4 208)">Voltage<tspan dx="1.6">(</tspan><tspan dx="1.2">V</tspan><tspan dx="1.2">)</tspan></text>
<text x="259.5" y="285.37" font-size="6.1" text-anchor="start" fill="#111" stroke="#111" stroke-width="0.22">Discharge Capacity<tspan dx="2.6">(</tspan><tspan dx="1.9">mAh/g</tspan><tspan dx="1.9">)</tspan></text>
<text x="368.2" y="157.34" font-size="6" text-anchor="end" fill="#111" stroke="#111" stroke-width="0.22">PPC-NCM||Li</text>
<polyline points="227.3,187.93 228.13,187.96 228.95,188 229.78,188.08 230.6,188.24 231.43,188.5 232.26,188.86 233.08,189.28 233.91,189.74 234.73,190.2 235.56,190.65 236.39,191.09 237.21,191.49 238.04,191.87 238.86,192.27 239.69,192.66 240.52,193.04 241.34,193.4 242.17,193.75 242.99,194.08 243.82,194.4 244.65,194.71 245.47,195.02 246.3,195.32 247.12,195.61 247.95,195.91 248.78,196.2 249.6,196.49 250.43,196.77 251.26,197.06 252.08,197.34 252.91,197.62 253.73,197.91 254.56,198.19 255.39,198.47 256.21,198.74 257.04,199.02 257.86,199.3 258.69,199.57 259.52,199.84 260.34,200.11 261.17,200.39 261.99,200.66 262.82,200.92 263.65,201.19 264.47,201.46 265.3,201.72 266.12,201.98 266.95,202.24 267.78,202.5 268.6,202.76 269.43,203.02 270.25,203.27 271.08,203.53 271.91,203.78 272.73,204.04 273.56,204.29 274.38,204.54 275.21,204.78 276.04,205.03 276.86,205.28 277.69,205.52 278.51,205.76 279.34,206 280.17,206.24 280.99,206.48 281.82,206.71 282.64,206.95 283.47,207.18 284.3,207.41 285.12,207.63 285.95,207.85 286.77,208.06 287.6,208.26 288.43,208.46 289.25,208.65 290.08,208.84 290.9,209.03 291.73,209.21 292.56,209.39 293.38,209.58 294.21,209.76 295.03,209.94 295.86,210.13 296.69,210.32 297.51,210.52 298.34,210.73 299.17,210.95 299.99,211.19 300.82,211.44 301.64,211.72 302.47,212 303.3,212.31 304.12,212.65 304.95,213.02 305.77,213.44 306.6,213.89 307.43,214.38 308.25,214.9 309.08,215.43 309.9,216 310.73,216.62 311.56,217.31 312.38,218.09 313.21,218.96 314.03,219.93 314.86,220.99 315.69,222.12 316.51,223.31 317.34,224.6 318.16,225.98 318.99,227.49 319.82,229.19 320.64,231.18 321.47,233.53 322.29,236.24 323.12,239.21 323.95,242.27 324.77,245.65 325.6,249.38 326.42,253.21" fill="none" stroke="#86d6ee" stroke-width="0.9" stroke-linejoin="round" stroke-linecap="round"/>
<polyline points="227.3,202.41 228.13,201.53 228.95,201.11 229.78,200.84 230.61,200.64 231.43,200.47 232.26,200.31 233.09,200.13 233.91,199.95 234.74,199.76 235.57,199.55 236.39,199.33 237.22,199.11 238.05,198.87 238.88,198.64 239.7,198.4 240.53,198.16 241.36,197.92 242.18,197.68 243.01,197.44 243.84,197.2 244.66,196.96 245.49,196.71 246.32,196.47 247.14,196.22 247.97,195.98 248.8,195.73 249.62,195.49 250.45,195.24 251.28,194.99 252.1,194.74 252.93,194.49 253.76,194.24 254.58,193.99 255.41,193.74 256.24,193.49 257.06,193.24 257.89,192.98 258.72,192.73 259.54,192.48 260.37,192.24 261.2,191.99 262.03,191.75 262.85,191.51 263.68,191.27 264.51,191.03 265.33,190.8 266.16,190.56 266.99,190.32 267.81,190.14 268.64,189.96 269.47,189.78 270.29,189.59 271.12,189.41 271.95,189.22 272.77,189.02 273.6,188.83 274.43,188.63 275.25,188.42 276.08,188.21 276.91,187.99 277.73,187.76 278.56,187.53 279.39,187.3 280.21,187.05 281.04,186.79 281.87,186.53 282.69,186.26 283.52,185.98 284.35,185.69 285.18,185.4 286,185.1 286.83,184.79 287.66,184.48 288.48,184.17 289.31,183.85 290.14,183.52 290.96,183.19 291.79,182.86 292.62,182.52 293.44,182.18 294.27,181.84 295.1,181.49 295.92,181.14 296.75,180.78 297.58,180.43 298.4,180.07 299.23,179.7 300.06,179.34 300.88,178.97 301.71,178.6 302.54,178.23 303.36,177.86 304.19,177.48 305.02,177.1 305.85,176.7 306.67,176.29 307.5,175.87 308.33,175.44 309.15,174.99 309.98,174.52 310.81,174.04 311.63,173.54 312.46,173.03 313.29,172.51 314.11,171.98 314.94,171.46 315.77,170.94 316.59,170.4 317.42,169.85 318.25,169.27 319.07,168.66 319.9,168.02 320.73,167.34 321.55,166.63 322.38,165.86 323.21,165.02 324.03,164.12 324.86,163.18 325.69,162.21 326.51,161.26" fill="none" stroke="#86d6ee" stroke-width="0.9" stroke-linejoin="round" stroke-linecap="round"/>
<polyline points="227.3,187.17 228.19,187.2 229.07,187.23 229.96,187.32 230.85,187.48 231.73,187.74 232.62,188.1 233.51,188.52 234.39,188.98 235.28,189.44 236.16,189.89 237.05,190.32 237.94,190.72 238.82,191.11 239.71,191.51 240.6,191.9 241.48,192.28 242.37,192.64 243.26,192.98 244.14,193.32 245.03,193.64 245.92,193.95 246.8,194.26 247.69,194.56 248.58,194.85 249.46,195.14 250.35,195.44 251.24,195.72 252.12,196.01 253.01,196.3 253.89,196.58 254.78,196.86 255.67,197.14 256.55,197.42 257.44,197.7 258.33,197.98 259.21,198.26 260.1,198.53 260.99,198.81 261.87,199.08 262.76,199.35 263.65,199.62 264.53,199.89 265.42,200.16 266.31,200.43 267.19,200.69 268.08,200.96 268.97,201.22 269.85,201.48 270.74,201.74 271.62,202 272.51,202.26 273.4,202.51 274.28,202.77 275.17,203.02 276.06,203.27 276.94,203.52 277.83,203.77 278.72,204.02 279.6,204.27 280.49,204.52 281.38,204.76 282.26,205 283.15,205.24 284.04,205.48 284.92,205.72 285.81,205.95 286.7,206.19 287.58,206.42 288.47,206.64 289.35,206.87 290.24,207.08 291.13,207.29 292.01,207.5 292.9,207.7 293.79,207.89 294.67,208.08 295.56,208.26 296.45,208.45 297.33,208.63 298.22,208.81 299.11,209 299.99,209.18 300.88,209.37 301.77,209.56 302.65,209.76 303.54,209.97 304.43,210.19 305.31,210.43 306.2,210.68 307.08,210.95 307.97,211.24 308.86,211.55 309.74,211.89 310.63,212.26 311.52,212.68 312.4,213.13 313.29,213.62 314.18,214.13 315.06,214.67 315.95,215.24 316.84,215.86 317.72,216.55 318.61,217.32 319.5,218.2 320.38,219.17 321.27,220.23 322.15,221.35 323.04,222.55 323.93,223.83 324.81,225.22 325.7,226.73 326.59,228.43 327.47,230.42 328.36,232.77 329.25,235.48 330.13,238.45 331.02,241.5 331.91,244.89 332.79,248.61 333.68,252.45" fill="none" stroke="#3fbcdc" stroke-width="0.9" stroke-linejoin="round" stroke-linecap="round"/>
<polyline points="227.3,202.41 228.19,201.55 229.07,201.14 229.96,200.88 230.85,200.7 231.74,200.55 232.62,200.4 233.51,200.25 234.4,200.08 235.29,199.9 236.17,199.71 237.06,199.51 237.95,199.3 238.83,199.08 239.72,198.86 240.61,198.64 241.5,198.42 242.38,198.19 243.27,197.97 244.16,197.74 245.05,197.52 245.93,197.29 246.82,197.06 247.71,196.83 248.59,196.61 249.48,196.38 250.37,196.14 251.26,195.91 252.14,195.68 253.03,195.45 253.92,195.22 254.8,194.98 255.69,194.75 256.58,194.52 257.47,194.28 258.35,194.04 259.24,193.81 260.13,193.57 261.02,193.34 261.9,193.1 262.79,192.87 263.68,192.65 264.56,192.42 265.45,192.2 266.34,191.97 267.23,191.75 268.11,191.53 269,191.3 269.89,191.08 270.78,190.9 271.66,190.72 272.55,190.54 273.44,190.35 274.32,190.17 275.21,189.98 276.1,189.79 276.99,189.59 277.87,189.39 278.76,189.18 279.65,188.97 280.54,188.75 281.42,188.53 282.31,188.29 283.2,188.06 284.08,187.81 284.97,187.56 285.86,187.29 286.75,187.02 287.63,186.74 288.52,186.45 289.41,186.16 290.29,185.86 291.18,185.55 292.07,185.24 292.96,184.93 293.84,184.61 294.73,184.28 295.62,183.95 296.51,183.62 297.39,183.28 298.28,182.94 299.17,182.6 300.05,182.25 300.94,181.9 301.83,181.54 302.72,181.19 303.6,180.83 304.49,180.47 305.38,180.1 306.27,179.73 307.15,179.36 308.04,178.99 308.93,178.62 309.81,178.24 310.7,177.86 311.59,177.46 312.48,177.06 313.36,176.64 314.25,176.2 315.14,175.75 316.03,175.29 316.91,174.8 317.8,174.3 318.69,173.79 319.57,173.27 320.46,172.74 321.35,172.22 322.24,171.7 323.12,171.17 324.01,170.61 324.9,170.03 325.78,169.42 326.67,168.78 327.56,168.1 328.45,167.39 329.33,166.63 330.22,165.78 331.11,164.88 332,163.94 332.88,162.98 333.77,162.02" fill="none" stroke="#3fbcdc" stroke-width="0.9" stroke-linejoin="round" stroke-linecap="round"/>
<polyline points="227.3,186.41 228.24,186.44 229.18,186.47 230.12,186.56 231.07,186.72 232.01,186.98 232.95,187.34 233.89,187.76 234.83,188.22 235.77,188.68 236.72,189.13 237.66,189.56 238.6,189.96 239.54,190.35 240.48,190.74 241.42,191.13 242.37,191.51 243.31,191.88 244.25,192.22 245.19,192.55 246.13,192.88 247.07,193.19 248.02,193.49 248.96,193.79 249.9,194.09 250.84,194.38 251.78,194.67 252.72,194.96 253.67,195.25 254.61,195.53 255.55,195.82 256.49,196.1 257.43,196.38 258.37,196.66 259.32,196.94 260.26,197.22 261.2,197.5 262.14,197.77 263.08,198.05 264.02,198.32 264.97,198.59 265.91,198.86 266.85,199.13 267.79,199.4 268.73,199.67 269.67,199.93 270.62,200.2 271.56,200.46 272.5,200.72 273.44,200.98 274.38,201.24 275.32,201.49 276.27,201.75 277.21,202.01 278.15,202.26 279.09,202.51 280.03,202.76 280.97,203.01 281.92,203.26 282.86,203.51 283.8,203.75 284.74,204 285.68,204.24 286.62,204.48 287.57,204.72 288.51,204.96 289.45,205.19 290.39,205.42 291.33,205.65 292.27,205.88 293.22,206.11 294.16,206.32 295.1,206.53 296.04,206.74 296.98,206.93 297.92,207.13 298.87,207.32 299.81,207.5 300.75,207.69 301.69,207.87 302.63,208.05 303.57,208.23 304.52,208.42 305.46,208.61 306.4,208.8 307.34,209 308.28,209.21 309.22,209.43 310.17,209.66 311.11,209.92 312.05,210.19 312.99,210.48 313.93,210.79 314.87,211.13 315.82,211.5 316.76,211.91 317.7,212.37 318.64,212.86 319.58,213.37 320.52,213.91 321.47,214.48 322.41,215.09 323.35,215.78 324.29,216.56 325.23,217.44 326.17,218.41 327.12,219.47 328.06,220.59 329,221.79 329.94,223.07 330.88,224.46 331.82,225.97 332.77,227.66 333.71,229.65 334.65,232.01 335.59,234.72 336.53,237.69 337.47,240.74 338.42,244.13 339.36,247.85 340.3,251.68" fill="none" stroke="#2f9ccc" stroke-width="0.9" stroke-linejoin="round" stroke-linecap="round"/>
<polyline points="227.3,202.41 228.24,201.57 229.17,201.18 230.11,200.95 231.04,200.78 231.98,200.65 232.91,200.53 233.85,200.39 234.78,200.25 235.72,200.09 236.66,199.92 237.59,199.74 238.53,199.55 239.46,199.35 240.4,199.16 241.33,198.96 242.27,198.76 243.21,198.55 244.14,198.35 245.08,198.15 246.01,197.94 246.95,197.74 247.88,197.53 248.82,197.32 249.75,197.11 250.69,196.9 251.63,196.7 252.56,196.49 253.5,196.27 254.43,196.06 255.37,195.85 256.3,195.64 257.24,195.43 258.18,195.21 259.11,195 260.05,194.79 260.98,194.57 261.92,194.35 262.85,194.14 263.79,193.93 264.72,193.72 265.66,193.51 266.6,193.31 267.53,193.11 268.47,192.9 269.4,192.7 270.34,192.5 271.27,192.3 272.21,192.09 273.15,191.92 274.08,191.74 275.02,191.55 275.95,191.37 276.89,191.18 277.82,191 278.76,190.8 279.69,190.6 280.63,190.4 281.57,190.2 282.5,189.98 283.44,189.77 284.37,189.54 285.31,189.31 286.24,189.07 287.18,188.83 288.12,188.57 289.05,188.31 289.99,188.04 290.92,187.76 291.86,187.47 292.79,187.18 293.73,186.88 294.66,186.57 295.6,186.26 296.54,185.94 297.47,185.62 298.41,185.3 299.34,184.97 300.28,184.64 301.21,184.3 302.15,183.96 303.09,183.61 304.02,183.27 304.96,182.91 305.89,182.56 306.83,182.2 307.76,181.84 308.7,181.48 309.63,181.12 310.57,180.75 311.51,180.38 312.44,180.01 313.38,179.64 314.31,179.26 315.25,178.87 316.18,178.48 317.12,178.07 318.05,177.65 318.99,177.22 319.93,176.77 320.86,176.3 321.8,175.82 322.73,175.32 323.67,174.81 324.6,174.28 325.54,173.76 326.48,173.24 327.41,172.72 328.35,172.18 329.28,171.63 330.22,171.05 331.15,170.44 332.09,169.8 333.02,169.12 333.96,168.41 334.9,167.64 335.83,166.8 336.77,165.9 337.7,164.96 338.64,163.99 339.57,163.04" fill="none" stroke="#2f9ccc" stroke-width="0.9" stroke-linejoin="round" stroke-linecap="round"/>
<polyline points="227.3,184.88 228.32,184.92 229.35,184.95 230.37,185.03 231.4,185.19 232.42,185.45 233.45,185.81 234.47,186.24 235.5,186.69 236.52,187.15 237.55,187.61 238.57,188.04 239.6,188.44 240.62,188.83 241.65,189.22 242.67,189.61 243.7,189.99 244.72,190.35 245.75,190.7 246.77,191.03 247.8,191.35 248.82,191.66 249.85,191.97 250.87,192.27 251.9,192.57 252.92,192.86 253.94,193.15 254.97,193.44 255.99,193.72 257.02,194.01 258.04,194.29 259.07,194.58 260.09,194.86 261.12,195.14 262.14,195.42 263.17,195.69 264.19,195.97 265.22,196.25 266.24,196.52 267.27,196.79 268.29,197.07 269.32,197.34 270.34,197.61 271.37,197.88 272.39,198.14 273.42,198.41 274.44,198.67 275.47,198.93 276.49,199.19 277.52,199.45 278.54,199.71 279.56,199.97 280.59,200.23 281.61,200.48 282.64,200.74 283.66,200.99 284.69,201.24 285.71,201.49 286.74,201.74 287.76,201.98 288.79,202.23 289.81,202.47 290.84,202.72 291.86,202.96 292.89,203.19 293.91,203.43 294.94,203.67 295.96,203.9 296.99,204.13 298.01,204.36 299.04,204.58 300.06,204.8 301.09,205.01 302.11,205.21 303.13,205.41 304.16,205.6 305.18,205.79 306.21,205.98 307.23,206.16 308.26,206.34 309.28,206.53 310.31,206.71 311.33,206.89 312.36,207.08 313.38,207.27 314.41,207.47 315.43,207.68 316.46,207.9 317.48,208.14 318.51,208.4 319.53,208.67 320.56,208.96 321.58,209.27 322.61,209.6 323.63,209.98 324.66,210.39 325.68,210.84 326.71,211.33 327.73,211.85 328.75,212.38 329.78,212.95 330.8,213.57 331.83,214.26 332.85,215.04 333.88,215.91 334.9,216.89 335.93,217.94 336.95,219.07 337.98,220.27 339,221.55 340.03,222.93 341.05,224.45 342.08,226.14 343.1,228.13 344.13,230.49 345.15,233.2 346.18,236.16 347.2,239.22 348.23,242.6 349.25,246.33 350.28,250.16" fill="none" stroke="#5b86d6" stroke-width="0.9" stroke-linejoin="round" stroke-linecap="round"/>
<polyline points="227.3,202.41 228.33,201.6 229.36,201.23 230.39,201.03 231.42,200.89 232.45,200.79 233.48,200.69 234.51,200.58 235.54,200.46 236.57,200.33 237.6,200.18 238.63,200.03 239.66,199.87 240.69,199.7 241.72,199.53 242.75,199.35 243.78,199.18 244.81,199 245.84,198.83 246.87,198.65 247.9,198.47 248.93,198.29 249.96,198.11 250.99,197.93 252.02,197.75 253.05,197.57 254.08,197.38 255.11,197.2 256.14,197.02 257.17,196.83 258.2,196.65 259.23,196.46 260.26,196.27 261.29,196.09 262.32,195.9 263.35,195.71 264.38,195.52 265.41,195.33 266.44,195.15 267.47,194.96 268.5,194.78 269.53,194.6 270.56,194.42 271.59,194.24 272.62,194.07 273.65,193.89 274.68,193.72 275.71,193.54 276.74,193.36 277.77,193.19 278.8,193.01 279.83,192.82 280.86,192.64 281.89,192.45 282.92,192.27 283.95,192.07 284.98,191.87 286.01,191.67 287.05,191.47 288.08,191.25 289.11,191.04 290.14,190.81 291.17,190.58 292.2,190.34 293.23,190.1 294.26,189.84 295.29,189.58 296.32,189.31 297.35,189.03 298.38,188.74 299.41,188.45 300.44,188.15 301.47,187.84 302.5,187.53 303.53,187.21 304.56,186.89 305.59,186.57 306.62,186.24 307.65,185.91 308.68,185.57 309.71,185.23 310.74,184.88 311.77,184.54 312.8,184.18 313.83,183.83 314.86,183.47 315.89,183.11 316.92,182.75 317.95,182.39 318.98,182.02 320.01,181.65 321.04,181.28 322.07,180.91 323.1,180.53 324.13,180.14 325.16,179.75 326.19,179.34 327.22,178.92 328.25,178.49 329.28,178.04 330.31,177.57 331.34,177.09 332.37,176.59 333.4,176.08 334.43,175.55 335.46,175.03 336.49,174.51 337.52,173.99 338.55,173.45 339.58,172.9 340.61,172.32 341.64,171.71 342.67,171.07 343.7,170.39 344.73,169.68 345.76,168.91 346.79,168.07 347.82,167.17 348.85,166.23 349.88,165.26 350.91,164.31" fill="none" stroke="#5b86d6" stroke-width="0.9" stroke-linejoin="round" stroke-linecap="round"/>
<line x1="227.8" y1="178" x2="227.8" y2="209" stroke="#49b6de" stroke-width="1"/>
<line x1="296" y1="261.7" x2="367.8" y2="261.7" stroke="#a9c6f0" stroke-width="2.2"/>
<path d="M292.6 261.7 L298 259.2 L298 264.2 Z" fill="#a9c6f0"/>
<text x="309.7" y="258.84" font-size="6.6" text-anchor="middle" fill="#93d8f0" stroke="#93d8f0" stroke-width="0.24">200th</text>
<text x="328.6" y="258.84" font-size="6.6" text-anchor="middle" fill="#44b6da" stroke="#44b6da" stroke-width="0.24">100th</text>
<text x="346.2" y="258.84" font-size="6.6" text-anchor="middle" fill="#3590cc" stroke="#3590cc" stroke-width="0.24">50th</text>
<text x="358.8" y="258.84" font-size="6.6" text-anchor="middle" fill="#4f7fd0" stroke="#4f7fd0" stroke-width="0.24">1st</text>
<text x="383.6" y="154.63" font-size="9.8" text-anchor="middle" fill="#111" stroke="#111" stroke-width="0.36">(e)</text>
<line x1="402.5" y1="147.5" x2="402.5" y2="264.2" stroke="#5a5a5a" stroke-width="1.25"/>
<line x1="547.2" y1="147.5" x2="547.2" y2="264.2" stroke="#5a5a5a" stroke-width="1.25"/>
<line x1="402.5" y1="147.5" x2="547.2" y2="147.5" stroke="#5a5a5a" stroke-width="1.25"/>
<line x1="402.5" y1="264.2" x2="547.2" y2="264.2" stroke="#5a5a5a" stroke-width="1.25"/>
<line x1="402.5" y1="264.2" x2="402.5" y2="266.2" stroke="#5a5a5a" stroke-width="1.25"/>
<line x1="428.9" y1="264.2" x2="428.9" y2="266.2" stroke="#5a5a5a" stroke-width="1.25"/>
<line x1="455.3" y1="264.2" x2="455.3" y2="266.2" stroke="#5a5a5a" stroke-width="1.25"/>
<line x1="481.7" y1="264.2" x2="481.7" y2="266.2" stroke="#5a5a5a" stroke-width="1.25"/>
<line x1="508.1" y1="264.2" x2="508.1" y2="266.2" stroke="#5a5a5a" stroke-width="1.25"/>
<line x1="534.5" y1="264.2" x2="534.5" y2="266.2" stroke="#5a5a5a" stroke-width="1.25"/>
<line x1="415.7" y1="264.2" x2="415.7" y2="265.4" stroke="#5a5a5a" stroke-width="1.25"/>
<line x1="442.1" y1="264.2" x2="442.1" y2="265.4" stroke="#5a5a5a" stroke-width="1.25"/>
<line x1="468.5" y1="264.2" x2="468.5" y2="265.4" stroke="#5a5a5a" stroke-width="1.25"/>
<line x1="494.9" y1="264.2" x2="494.9" y2="265.4" stroke="#5a5a5a" stroke-width="1.25"/>
<line x1="521.3" y1="264.2" x2="521.3" y2="265.4" stroke="#5a5a5a" stroke-width="1.25"/>
<text x="402.5" y="272.84" font-size="6" text-anchor="middle" fill="#111" stroke="#111" stroke-width="0.22">0</text>
<text x="428.9" y="272.84" font-size="6" text-anchor="middle" fill="#111" stroke="#111" stroke-width="0.22">50</text>
<text x="455.3" y="272.84" font-size="6" text-anchor="middle" fill="#111" stroke="#111" stroke-width="0.22">100</text>
<text x="481.7" y="272.84" font-size="6" text-anchor="middle" fill="#111" stroke="#111" stroke-width="0.22">150</text>
<text x="508.1" y="272.84" font-size="6" text-anchor="middle" fill="#111" stroke="#111" stroke-width="0.22">200</text>
<text x="534.5" y="272.84" font-size="6" text-anchor="middle" fill="#111" stroke="#111" stroke-width="0.22">250</text>
<line x1="402.5" y1="264.2" x2="400.5" y2="264.2" stroke="#5a5a5a" stroke-width="1.25"/>
<line x1="402.5" y1="242.95" x2="400.5" y2="242.95" stroke="#5a5a5a" stroke-width="1.25"/>
<line x1="402.5" y1="221.7" x2="400.5" y2="221.7" stroke="#5a5a5a" stroke-width="1.25"/>
<line x1="402.5" y1="200.45" x2="400.5" y2="200.45" stroke="#5a5a5a" stroke-width="1.25"/>
<line x1="402.5" y1="179.2" x2="400.5" y2="179.2" stroke="#5a5a5a" stroke-width="1.25"/>
<line x1="402.5" y1="157.95" x2="400.5" y2="157.95" stroke="#5a5a5a" stroke-width="1.25"/>
<line x1="402.5" y1="253.57" x2="401.3" y2="253.57" stroke="#5a5a5a" stroke-width="1.25"/>
<line x1="402.5" y1="232.32" x2="401.3" y2="232.32" stroke="#5a5a5a" stroke-width="1.25"/>
<line x1="402.5" y1="211.07" x2="401.3" y2="211.07" stroke="#5a5a5a" stroke-width="1.25"/>
<line x1="402.5" y1="189.82" x2="401.3" y2="189.82" stroke="#5a5a5a" stroke-width="1.25"/>
<line x1="402.5" y1="168.57" x2="401.3" y2="168.57" stroke="#5a5a5a" stroke-width="1.25"/>
<text x="398.8" y="266.24" font-size="6" text-anchor="end" fill="#111" stroke="#111" stroke-width="0.22">0</text>
<text x="398.8" y="244.99" font-size="6" text-anchor="end" fill="#111" stroke="#111" stroke-width="0.22">50</text>
<text x="398.8" y="223.74" font-size="6" text-anchor="end" fill="#111" stroke="#111" stroke-width="0.22">100</text>
<text x="398.8" y="202.49" font-size="6" text-anchor="end" fill="#111" stroke="#111" stroke-width="0.22">150</text>
<text x="398.8" y="181.24" font-size="6" text-anchor="end" fill="#111" stroke="#111" stroke-width="0.22">200</text>
<text x="398.8" y="159.99" font-size="6" text-anchor="end" fill="#111" stroke="#111" stroke-width="0.22">250</text>
<text x="382.8" y="207.6" font-size="5.6" text-anchor="middle" fill="#111" stroke="#111" stroke-width="0.21" transform="rotate(-90 382.8 205.7)">-Z'' (Ω)</text>
<text x="475" y="283.54" font-size="6" text-anchor="middle" fill="#111" stroke="#111" stroke-width="0.22">Z' (Ω)</text>
<polyline points="404,264.5 404.42,263.95 405,263.18 405.69,262.27 406.44,261.3 407.23,260.35 408,259.5 408.75,258.73 409.52,257.99 410.31,257.26 411.15,256.56 412.04,255.87 413,255.2 414.04,254.54 415.15,253.9 416.31,253.27 417.52,252.67 418.75,252.11 420,251.6 421.28,251.14 422.59,250.71 423.94,250.33 425.3,249.98 426.66,249.67 428,249.4 429.33,249.17 430.67,248.98 432,248.83 433.33,248.71 434.67,248.64 436,248.6 437.33,248.61 438.67,248.66 440,248.75 441.33,248.87 442.67,249.03 444,249.2 445.36,249.4 446.74,249.63 448.12,249.89 449.48,250.17 450.78,250.48 452,250.8 453.13,251.16 454.21,251.55 455.22,251.96 456.19,252.39 457.12,252.8 458,253.2 458.84,253.6 459.63,254.02 460.38,254.44 461.09,254.82 461.76,255.15 462.4,255.4 462.99,255.58 463.51,255.7 464.01,255.77 464.49,255.78 464.98,255.72 465.5,255.6 466.05,255.4 466.61,255.13 467.17,254.8 467.76,254.41 468.37,253.97 469,253.5 469.67,252.97 470.38,252.37 471.11,251.73 471.84,251.06 472.58,250.38 473.3,249.7 473.99,249.04 474.67,248.39 475.34,247.72 476.03,247.03 476.74,246.29 477.5,245.5 478.37,244.57 479.35,243.5 480.36,242.39 481.31,241.33 482.12,240.44 482.7,239.8" fill="none" stroke="#56b8dc" stroke-width="0.8" stroke-linejoin="round" stroke-linecap="round"/>
<circle cx="404" cy="264.5" r="1.35" fill="#2a9fc8" stroke="none" stroke-width="0"/>
<circle cx="404.87" cy="263.35" r="1.35" fill="#2a9fc8" stroke="none" stroke-width="0"/>
<circle cx="405.69" cy="262.27" r="1.35" fill="#2a9fc8" stroke="none" stroke-width="0"/>
<circle cx="406.6" cy="261.11" r="1.35" fill="#2a9fc8" stroke="none" stroke-width="0"/>
<circle cx="407.54" cy="259.99" r="1.35" fill="#2a9fc8" stroke="none" stroke-width="0"/>
<circle cx="408.45" cy="259.04" r="1.35" fill="#2a9fc8" stroke="none" stroke-width="0"/>
<circle cx="409.36" cy="258.14" r="1.35" fill="#2a9fc8" stroke="none" stroke-width="0"/>
<circle cx="410.31" cy="257.26" r="1.35" fill="#2a9fc8" stroke="none" stroke-width="0"/>
<circle cx="411.32" cy="256.42" r="1.35" fill="#2a9fc8" stroke="none" stroke-width="0"/>
<circle cx="412.41" cy="255.6" r="1.35" fill="#2a9fc8" stroke="none" stroke-width="0"/>
<circle cx="413.61" cy="254.81" r="1.35" fill="#2a9fc8" stroke="none" stroke-width="0"/>
<circle cx="414.92" cy="254.02" r="1.35" fill="#2a9fc8" stroke="none" stroke-width="0"/>
<circle cx="416.31" cy="253.27" r="1.35" fill="#2a9fc8" stroke="none" stroke-width="0"/>
<circle cx="417.76" cy="252.56" r="1.35" fill="#2a9fc8" stroke="none" stroke-width="0"/>
<circle cx="419.25" cy="251.9" r="1.35" fill="#2a9fc8" stroke="none" stroke-width="0"/>
<circle cx="420.76" cy="251.32" r="1.35" fill="#2a9fc8" stroke="none" stroke-width="0"/>
<circle cx="422.33" cy="250.79" r="1.35" fill="#2a9fc8" stroke="none" stroke-width="0"/>
<circle cx="423.94" cy="250.33" r="1.35" fill="#2a9fc8" stroke="none" stroke-width="0"/>
<circle cx="425.57" cy="249.91" r="1.35" fill="#2a9fc8" stroke="none" stroke-width="0"/>
<circle cx="427.2" cy="249.56" r="1.35" fill="#2a9fc8" stroke="none" stroke-width="0"/>
<circle cx="428.8" cy="249.26" r="1.35" fill="#2a9fc8" stroke="none" stroke-width="0"/>
<circle cx="430.4" cy="249.01" r="1.35" fill="#2a9fc8" stroke="none" stroke-width="0"/>
<circle cx="432" cy="248.83" r="1.35" fill="#2a9fc8" stroke="none" stroke-width="0"/>
<circle cx="433.6" cy="248.69" r="1.35" fill="#2a9fc8" stroke="none" stroke-width="0"/>
<circle cx="435.2" cy="248.62" r="1.35" fill="#2a9fc8" stroke="none" stroke-width="0"/>
<circle cx="436.8" cy="248.6" r="1.35" fill="#2a9fc8" stroke="none" stroke-width="0"/>
<circle cx="438.4" cy="248.65" r="1.35" fill="#2a9fc8" stroke="none" stroke-width="0"/>
<circle cx="440" cy="248.75" r="1.35" fill="#2a9fc8" stroke="none" stroke-width="0"/>
<circle cx="441.6" cy="248.9" r="1.35" fill="#2a9fc8" stroke="none" stroke-width="0"/>
<circle cx="443.2" cy="249.09" r="1.35" fill="#2a9fc8" stroke="none" stroke-width="0"/>
<circle cx="444.81" cy="249.32" r="1.35" fill="#2a9fc8" stroke="none" stroke-width="0"/>
<circle cx="446.46" cy="249.58" r="1.35" fill="#2a9fc8" stroke="none" stroke-width="0"/>
<circle cx="448.12" cy="249.89" r="1.35" fill="#2a9fc8" stroke="none" stroke-width="0"/>
<circle cx="449.75" cy="250.23" r="1.35" fill="#2a9fc8" stroke="none" stroke-width="0"/>
<circle cx="451.28" cy="250.6" r="1.35" fill="#2a9fc8" stroke="none" stroke-width="0"/>
<circle cx="452.69" cy="251.01" r="1.35" fill="#2a9fc8" stroke="none" stroke-width="0"/>
<circle cx="454" cy="251.47" r="1.35" fill="#2a9fc8" stroke="none" stroke-width="0"/>
<circle cx="455.22" cy="251.96" r="1.35" fill="#2a9fc8" stroke="none" stroke-width="0"/>
<circle cx="456.38" cy="252.47" r="1.35" fill="#2a9fc8" stroke="none" stroke-width="0"/>
<circle cx="457.47" cy="252.96" r="1.35" fill="#2a9fc8" stroke="none" stroke-width="0"/>
<circle cx="458.51" cy="253.44" r="1.35" fill="#2a9fc8" stroke="none" stroke-width="0"/>
<circle cx="459.48" cy="253.94" r="1.35" fill="#2a9fc8" stroke="none" stroke-width="0"/>
<circle cx="460.38" cy="254.44" r="1.35" fill="#2a9fc8" stroke="none" stroke-width="0"/>
<circle cx="461.63" cy="255.09" r="1.35" fill="#2a9fc8" stroke="none" stroke-width="0"/>
<circle cx="462.76" cy="255.51" r="1.35" fill="#2a9fc8" stroke="none" stroke-width="0"/>
<circle cx="464.01" cy="255.77" r="1.35" fill="#2a9fc8" stroke="none" stroke-width="0"/>
<circle cx="465.18" cy="255.68" r="1.35" fill="#2a9fc8" stroke="none" stroke-width="0"/>
<circle cx="466.16" cy="255.35" r="1.35" fill="#2a9fc8" stroke="none" stroke-width="0"/>
<circle cx="467.17" cy="254.8" r="1.35" fill="#2a9fc8" stroke="none" stroke-width="0"/>
<circle cx="468.24" cy="254.07" r="1.35" fill="#2a9fc8" stroke="none" stroke-width="0"/>
<circle cx="469.4" cy="253.19" r="1.35" fill="#2a9fc8" stroke="none" stroke-width="0"/>
<circle cx="470.23" cy="252.5" r="1.35" fill="#2a9fc8" stroke="none" stroke-width="0"/>
<circle cx="471.11" cy="251.73" r="1.35" fill="#2a9fc8" stroke="none" stroke-width="0"/>
<circle cx="471.99" cy="250.92" r="1.35" fill="#2a9fc8" stroke="none" stroke-width="0"/>
<circle cx="472.87" cy="250.1" r="1.35" fill="#2a9fc8" stroke="none" stroke-width="0"/>
<circle cx="473.72" cy="249.3" r="1.35" fill="#2a9fc8" stroke="none" stroke-width="0"/>
<circle cx="474.54" cy="248.52" r="1.35" fill="#2a9fc8" stroke="none" stroke-width="0"/>
<circle cx="475.34" cy="247.72" r="1.35" fill="#2a9fc8" stroke="none" stroke-width="0"/>
<circle cx="478" cy="245.3" r="1.4" fill="#2a9fc8" stroke="none" stroke-width="0"/>
<circle cx="482.7" cy="239.8" r="1.4" fill="#2a9fc8" stroke="none" stroke-width="0"/>
<polyline points="405.5,264.6 405.77,264.23 406.13,263.72 406.56,263.11 407.04,262.46 407.53,261.81 408,261.2 408.46,260.63 408.93,260.05 409.41,259.47 409.91,258.9 410.44,258.34 411,257.8 411.6,257.27 412.22,256.76 412.88,256.25 413.56,255.76 414.26,255.27 415,254.8 415.78,254.33 416.59,253.87 417.44,253.43 418.3,252.99 419.16,252.58 420,252.2 420.83,251.85 421.67,251.51 422.5,251.21 423.33,250.92 424.17,250.65 425,250.4 425.82,250.17 426.63,249.96 427.44,249.76 428.26,249.59 429.11,249.43 430,249.3 430.95,249.18 431.94,249.09 432.97,249.01 434,248.95 435.02,248.91 436,248.9 436.96,248.91 437.91,248.96 438.84,249.02 439.76,249.1 440.65,249.2 441.5,249.3 442.3,249.42 443.04,249.54 443.76,249.69 444.47,249.84 445.21,250.02 446,250.2 446.86,250.4 447.76,250.61 448.69,250.84 449.63,251.09 450.54,251.34 451.4,251.6 452.21,251.87 452.98,252.16 453.72,252.46 454.47,252.76 455.22,253.08 456,253.4 456.82,253.74 457.67,254.1 458.54,254.47 459.39,254.83 460.22,255.18 461,255.5 461.74,255.79 462.44,256.07 463.12,256.34 463.78,256.58 464.4,256.8 465,257 465.55,257.17 466.06,257.31 466.53,257.43 467,257.53 467.48,257.62 468,257.7 468.55,257.77 469.11,257.84 469.69,257.89 470.29,257.92 470.89,257.92 471.5,257.9 472.12,257.85 472.74,257.78 473.38,257.69 474.03,257.56 474.7,257.4 475.4,257.2 476.11,256.96 476.84,256.68 477.58,256.37 478.35,256.02 479.16,255.63 480,255.2 480.96,254.68 482.06,254.04 483.19,253.37 484.25,252.73 485.16,252.19 485.8,251.8" fill="none" stroke="#8db6ea" stroke-width="0.8" stroke-linejoin="round" stroke-linecap="round"/>
<circle cx="405.5" cy="264.6" r="1.35" fill="#3d82d2" stroke="none" stroke-width="0"/>
<circle cx="406.3" cy="263.48" r="1.35" fill="#3d82d2" stroke="none" stroke-width="0"/>
<circle cx="407.13" cy="262.33" r="1.35" fill="#3d82d2" stroke="none" stroke-width="0"/>
<circle cx="408" cy="261.2" r="1.35" fill="#3d82d2" stroke="none" stroke-width="0"/>
<circle cx="408.83" cy="260.17" r="1.35" fill="#3d82d2" stroke="none" stroke-width="0"/>
<circle cx="409.7" cy="259.13" r="1.35" fill="#3d82d2" stroke="none" stroke-width="0"/>
<circle cx="410.66" cy="258.12" r="1.35" fill="#3d82d2" stroke="none" stroke-width="0"/>
<circle cx="411.72" cy="257.17" r="1.35" fill="#3d82d2" stroke="none" stroke-width="0"/>
<circle cx="412.88" cy="256.25" r="1.35" fill="#3d82d2" stroke="none" stroke-width="0"/>
<circle cx="413.69" cy="255.66" r="1.35" fill="#3d82d2" stroke="none" stroke-width="0"/>
<circle cx="414.55" cy="255.08" r="1.35" fill="#3d82d2" stroke="none" stroke-width="0"/>
<circle cx="415.46" cy="254.52" r="1.35" fill="#3d82d2" stroke="none" stroke-width="0"/>
<circle cx="416.43" cy="253.97" r="1.35" fill="#3d82d2" stroke="none" stroke-width="0"/>
<circle cx="417.44" cy="253.43" r="1.35" fill="#3d82d2" stroke="none" stroke-width="0"/>
<circle cx="418.47" cy="252.91" r="1.35" fill="#3d82d2" stroke="none" stroke-width="0"/>
<circle cx="419.5" cy="252.43" r="1.35" fill="#3d82d2" stroke="none" stroke-width="0"/>
<circle cx="420.5" cy="251.98" r="1.35" fill="#3d82d2" stroke="none" stroke-width="0"/>
<circle cx="421.5" cy="251.58" r="1.35" fill="#3d82d2" stroke="none" stroke-width="0"/>
<circle cx="422.5" cy="251.21" r="1.35" fill="#3d82d2" stroke="none" stroke-width="0"/>
<circle cx="423.5" cy="250.86" r="1.35" fill="#3d82d2" stroke="none" stroke-width="0"/>
<circle cx="424.5" cy="250.55" r="1.35" fill="#3d82d2" stroke="none" stroke-width="0"/>
<circle cx="425.5" cy="250.26" r="1.35" fill="#3d82d2" stroke="none" stroke-width="0"/>
<circle cx="426.47" cy="250" r="1.35" fill="#3d82d2" stroke="none" stroke-width="0"/>
<circle cx="427.93" cy="249.66" r="1.35" fill="#3d82d2" stroke="none" stroke-width="0"/>
<circle cx="428.94" cy="249.46" r="1.35" fill="#3d82d2" stroke="none" stroke-width="0"/>
<circle cx="430" cy="249.3" r="1.35" fill="#3d82d2" stroke="none" stroke-width="0"/>
<circle cx="431.14" cy="249.16" r="1.35" fill="#3d82d2" stroke="none" stroke-width="0"/>
<circle cx="432.35" cy="249.05" r="1.35" fill="#3d82d2" stroke="none" stroke-width="0"/>
<circle cx="433.59" cy="248.97" r="1.35" fill="#3d82d2" stroke="none" stroke-width="0"/>
<circle cx="434.82" cy="248.92" r="1.35" fill="#3d82d2" stroke="none" stroke-width="0"/>
<circle cx="436" cy="248.9" r="1.35" fill="#3d82d2" stroke="none" stroke-width="0"/>
<circle cx="437.15" cy="248.92" r="1.35" fill="#3d82d2" stroke="none" stroke-width="0"/>
<circle cx="438.28" cy="248.98" r="1.35" fill="#3d82d2" stroke="none" stroke-width="0"/>
<circle cx="439.4" cy="249.07" r="1.35" fill="#3d82d2" stroke="none" stroke-width="0"/>
<circle cx="440.47" cy="249.18" r="1.35" fill="#3d82d2" stroke="none" stroke-width="0"/>
<circle cx="441.5" cy="249.3" r="1.35" fill="#3d82d2" stroke="none" stroke-width="0"/>
<circle cx="442.9" cy="249.52" r="1.35" fill="#3d82d2" stroke="none" stroke-width="0"/>
<circle cx="444.18" cy="249.78" r="1.35" fill="#3d82d2" stroke="none" stroke-width="0"/>
<circle cx="445.52" cy="250.09" r="1.35" fill="#3d82d2" stroke="none" stroke-width="0"/>
<circle cx="446.51" cy="250.32" r="1.35" fill="#3d82d2" stroke="none" stroke-width="0"/>
<circle cx="447.58" cy="250.57" r="1.35" fill="#3d82d2" stroke="none" stroke-width="0"/>
<circle cx="448.69" cy="250.84" r="1.35" fill="#3d82d2" stroke="none" stroke-width="0"/>
<circle cx="449.81" cy="251.13" r="1.35" fill="#3d82d2" stroke="none" stroke-width="0"/>
<circle cx="450.89" cy="251.44" r="1.35" fill="#3d82d2" stroke="none" stroke-width="0"/>
<circle cx="451.89" cy="251.76" r="1.35" fill="#3d82d2" stroke="none" stroke-width="0"/>
<circle cx="453.28" cy="252.28" r="1.35" fill="#3d82d2" stroke="none" stroke-width="0"/>
<circle cx="454.62" cy="252.83" r="1.35" fill="#3d82d2" stroke="none" stroke-width="0"/>
<circle cx="456" cy="253.4" r="1.35" fill="#3d82d2" stroke="none" stroke-width="0"/>
<circle cx="456.99" cy="253.81" r="1.35" fill="#3d82d2" stroke="none" stroke-width="0"/>
<circle cx="458.02" cy="254.25" r="1.35" fill="#3d82d2" stroke="none" stroke-width="0"/>
<circle cx="459.05" cy="254.69" r="1.35" fill="#3d82d2" stroke="none" stroke-width="0"/>
<circle cx="460.06" cy="255.11" r="1.35" fill="#3d82d2" stroke="none" stroke-width="0"/>
<circle cx="461" cy="255.5" r="1.35" fill="#3d82d2" stroke="none" stroke-width="0"/>
<circle cx="462.31" cy="256.02" r="1.35" fill="#3d82d2" stroke="none" stroke-width="0"/>
<circle cx="463.52" cy="256.49" r="1.35" fill="#3d82d2" stroke="none" stroke-width="0"/>
<circle cx="464.65" cy="256.89" r="1.35" fill="#3d82d2" stroke="none" stroke-width="0"/>
<circle cx="465.66" cy="257.2" r="1.35" fill="#3d82d2" stroke="none" stroke-width="0"/>
<circle cx="466.81" cy="257.49" r="1.35" fill="#3d82d2" stroke="none" stroke-width="0"/>
<circle cx="468" cy="257.7" r="1.35" fill="#3d82d2" stroke="none" stroke-width="0"/>
<circle cx="469" cy="257.83" r="1.35" fill="#3d82d2" stroke="none" stroke-width="0"/>
<circle cx="470.05" cy="257.91" r="1.35" fill="#3d82d2" stroke="none" stroke-width="0"/>
<circle cx="471.13" cy="257.92" r="1.35" fill="#3d82d2" stroke="none" stroke-width="0"/>
<circle cx="472.24" cy="257.84" r="1.35" fill="#3d82d2" stroke="none" stroke-width="0"/>
<circle cx="473.38" cy="257.69" r="1.35" fill="#3d82d2" stroke="none" stroke-width="0"/>
<circle cx="474.57" cy="257.44" r="1.35" fill="#3d82d2" stroke="none" stroke-width="0"/>
<circle cx="475.83" cy="257.06" r="1.35" fill="#3d82d2" stroke="none" stroke-width="0"/>
<circle cx="477.13" cy="256.56" r="1.35" fill="#3d82d2" stroke="none" stroke-width="0"/>
<circle cx="478.51" cy="255.94" r="1.35" fill="#3d82d2" stroke="none" stroke-width="0"/>
<circle cx="479.49" cy="255.46" r="1.35" fill="#3d82d2" stroke="none" stroke-width="0"/>
<circle cx="480.56" cy="254.9" r="1.35" fill="#3d82d2" stroke="none" stroke-width="0"/>
<circle cx="481.83" cy="254.18" r="1.35" fill="#3d82d2" stroke="none" stroke-width="0"/>
<circle cx="483.19" cy="253.37" r="1.35" fill="#3d82d2" stroke="none" stroke-width="0"/>
<circle cx="484.45" cy="252.61" r="1.35" fill="#3d82d2" stroke="none" stroke-width="0"/>
<circle cx="485.45" cy="252.01" r="1.35" fill="#3d82d2" stroke="none" stroke-width="0"/>
<polyline points="402.5,264.2 402.77,263.64 403.13,262.85 403.56,261.92 404.04,260.95 404.53,260.01 405,259.2 405.45,258.52 405.91,257.91 406.38,257.34 406.88,256.78 407.41,256.21 408,255.6 408.62,254.96 409.26,254.31 409.93,253.64 410.67,252.97 411.48,252.29 412.4,251.6 413.46,250.89 414.66,250.14 415.93,249.39 417.23,248.65 418.51,247.94 419.7,247.3 420.82,246.71 421.92,246.17 422.99,245.66 424.03,245.18 425.04,244.73 426,244.3 426.9,243.9 427.73,243.54 428.52,243.21 429.31,242.9 430.12,242.6 431,242.3 431.93,242 432.89,241.71 433.88,241.43 434.89,241.16 435.93,240.92 437,240.7 438.12,240.51 439.3,240.33 440.5,240.18 441.7,240.06 442.88,239.96 444,239.9 445.05,239.88 446.06,239.89 447.04,239.94 448.01,240.01 448.99,240.1 450,240.2 451.06,240.33 452.17,240.48 453.28,240.66 454.37,240.84 455.39,241.03 456.3,241.2 457.08,241.37 457.76,241.53 458.38,241.69 458.96,241.86 459.55,242.03 460.2,242.2 460.9,242.38 461.63,242.56 462.38,242.74 463.11,242.92 463.82,243.11 464.5,243.3 465.1,243.48 465.62,243.64 466.12,243.81 466.65,243.99 467.26,244.22 468,244.5 468.89,244.85 469.89,245.26 470.96,245.71 472.09,246.18 473.25,246.65 474.4,247.1 475.58,247.54 476.83,248 478.09,248.46 479.35,248.91 480.57,249.32 481.7,249.7 482.75,250.07 483.76,250.46 484.71,250.81 485.63,251.1 486.53,251.28 487.4,251.3 488.25,251.15 489.08,250.87 489.88,250.48 490.65,250 491.39,249.46 492.1,248.9 492.78,248.27 493.42,247.53 494.03,246.74 494.61,245.94 495.17,245.18 495.7,244.5 496.19,243.92 496.65,243.41 497.08,242.94 497.49,242.47 497.9,241.97 498.3,241.4 498.69,240.78 499.07,240.12 499.43,239.43 499.8,238.71 500.19,237.97 500.6,237.2 501.04,236.39 501.5,235.53 501.98,234.65 502.47,233.76 502.98,232.87 503.5,232 504.05,231.15 504.62,230.31 505.21,229.47 505.81,228.64 506.41,227.81 507,227 507.59,226.21 508.2,225.46 508.81,224.71 509.41,223.94 509.97,223.15 510.5,222.3 510.97,221.42 511.38,220.54 511.76,219.63 512.14,218.66 512.55,217.59 513,216.4 513.54,214.95 514.16,213.24 514.81,211.43 515.41,209.71 515.93,208.24 516.3,207.2" fill="none" stroke="#c4480f" stroke-width="1" stroke-linejoin="round" stroke-linecap="round"/>
<path d="M402.5 262.2L404.35 265.53L400.65 265.53Z" fill="#c4480f"/>
<path d="M403.56 259.93L405.41 263.26L401.71 263.26Z" fill="#c4480f"/>
<path d="M404.72 257.67L406.57 261L402.87 261Z" fill="#c4480f"/>
<path d="M406.38 255.34L408.23 258.67L404.53 258.67Z" fill="#c4480f"/>
<path d="M408.37 253.22L410.22 256.55L406.52 256.55Z" fill="#c4480f"/>
<path d="M410.82 250.84L412.67 254.17L408.97 254.17Z" fill="#c4480f"/>
<path d="M413.69 248.74L415.54 252.07L411.84 252.07Z" fill="#c4480f"/>
<path d="M416.71 246.94L418.56 250.27L414.86 250.27Z" fill="#c4480f"/>
<path d="M420.38 244.94L422.23 248.27L418.53 248.27Z" fill="#c4480f"/>
<path d="M424.24 243.09L426.09 246.42L422.39 246.42Z" fill="#c4480f"/>
<path d="M428.05 241.41L429.9 244.74L426.2 244.74Z" fill="#c4480f"/>
<path d="M432.12 239.94L433.97 243.27L430.27 243.27Z" fill="#c4480f"/>
<path d="M437 238.7L438.85 242.03L435.15 242.03Z" fill="#c4480f"/>
<path d="M441.94 238.04L443.79 241.37L440.09 241.37Z" fill="#c4480f"/>
<path d="M447.04 237.94L448.89 241.27L445.19 241.27Z" fill="#c4480f"/>
<path d="M451.94 238.45L453.79 241.78L450.09 241.78Z" fill="#c4480f"/>
<path d="M456.79 239.3L458.64 242.63L454.94 242.63Z" fill="#c4480f"/>
<path d="M461.49 240.52L463.34 243.85L459.64 243.85Z" fill="#c4480f"/>
<path d="M466.12 241.81L467.97 245.14L464.27 245.14Z" fill="#c4480f"/>
<path d="M468 242.72L469.65 245.69L466.35 245.69Z" fill="#c4480f"/>
<path d="M469.42 243.31L471.07 246.28L467.77 246.28Z" fill="#c4480f"/>
<path d="M470.74 243.86L472.39 246.83L469.09 246.83Z" fill="#c4480f"/>
<path d="M472.21 244.46L473.86 247.43L470.56 247.43Z" fill="#c4480f"/>
<path d="M473.69 245.05L475.34 248.02L472.04 248.02Z" fill="#c4480f"/>
<path d="M475.1 245.58L476.75 248.55L473.45 248.55Z" fill="#c4480f"/>
<path d="M476.57 246.13L478.22 249.1L474.92 249.1Z" fill="#c4480f"/>
<path d="M478.09 246.68L479.74 249.65L476.44 249.65Z" fill="#c4480f"/>
<path d="M479.6 247.21L481.25 250.18L477.95 250.18Z" fill="#c4480f"/>
<path d="M481.03 247.7L482.68 250.67L479.38 250.67Z" fill="#c4480f"/>
<path d="M482.34 248.14L483.99 251.11L480.69 251.11Z" fill="#c4480f"/>
<path d="M483.56 248.6L485.21 251.57L481.91 251.57Z" fill="#c4480f"/>
<path d="M484.71 249.03L486.36 252L483.06 252Z" fill="#c4480f"/>
<path d="M486.35 249.47L488 252.44L484.7 252.44Z" fill="#c4480f"/>
<path d="M487.93 249.43L489.58 252.4L486.28 252.4Z" fill="#c4480f"/>
<path d="M489.58 248.73L491.23 251.7L487.93 251.7Z" fill="#c4480f"/>
<path d="M490.61 248.1L492.26 251.07L488.96 251.07Z" fill="#c4480f"/>
<path d="M491.82 247.28L493.47 250.25L490.17 250.25Z" fill="#c4480f"/>
<path d="M487.4 249.3L489.25 252.63L485.55 252.63Z" fill="#c4480f"/>
<path d="M492.51 246.54L494.36 249.87L490.66 249.87Z" fill="#c4480f"/>
<path d="M496 242.14L497.85 245.47L494.15 245.47Z" fill="#c4480f"/>
<path d="M499.43 237.43L501.28 240.76L497.58 240.76Z" fill="#c4480f"/>
<path d="M502.27 232.12L504.12 235.45L500.42 235.45Z" fill="#c4480f"/>
<path d="M505.57 226.97L507.42 230.3L503.72 230.3Z" fill="#c4480f"/>
<path d="M509.17 222.25L511.02 225.58L507.32 225.58Z" fill="#c4480f"/>
<path d="M511.99 217.06L513.84 220.39L510.14 220.39Z" fill="#c4480f"/>
<path d="M514.04 211.59L515.89 214.92L512.19 214.92Z" fill="#c4480f"/>
<path d="M516.1 205.76L517.95 209.09L514.25 209.09Z" fill="#c4480f"/>
<polyline points="404,265 404.32,264.5 404.76,263.81 405.28,262.99 405.85,262.12 406.44,261.27 407,260.5 407.54,259.82 408.07,259.18 408.62,258.56 409.2,257.93 409.82,257.28 410.5,256.6 411.24,255.86 412.04,255.07 412.88,254.27 413.74,253.47 414.62,252.71 415.5,252 416.37,251.36 417.24,250.77 418.12,250.21 419.04,249.67 419.99,249.14 421,248.6 422.09,248.05 423.24,247.51 424.44,246.97 425.66,246.44 426.85,245.92 428,245.4 429.08,244.88 430.11,244.34 431.13,243.82 432.16,243.31 433.24,242.83 434.4,242.4 435.66,242.01 436.98,241.64 438.35,241.31 439.76,241.01 441.18,240.74 442.6,240.5 444.02,240.29 445.46,240.13 446.91,239.99 448.38,239.87 449.87,239.78 451.4,239.7 453.02,239.64 454.74,239.6 456.49,239.59 458.19,239.59 459.75,239.59 461.1,239.6 462.14,239.6 462.92,239.59 463.57,239.59 464.21,239.62 464.98,239.68 466,239.8 467.29,239.96 468.76,240.16 470.36,240.39 472.03,240.67 473.72,241 475.4,241.4 477.12,241.9 478.94,242.49 480.79,243.14 482.6,243.8 484.29,244.43 485.8,245 487.09,245.49 488.21,245.94 489.21,246.36 490.16,246.77 491.1,247.18 492.1,247.6 493.11,248.03 494.09,248.47 495.07,248.9 496.07,249.33 497.14,249.77 498.3,250.2 499.57,250.64 500.94,251.1 502.37,251.56 503.83,252.01 505.28,252.42 506.7,252.8 508.13,253.14 509.6,253.46 511.06,253.75 512.48,254.01 513.81,254.23 515,254.4 516.02,254.53 516.91,254.61 517.71,254.65 518.46,254.66 519.2,254.64 520,254.6 520.83,254.54 521.67,254.46 522.5,254.35 523.33,254.21 524.17,254.03 525,253.8 525.84,253.53 526.68,253.21 527.52,252.86 528.36,252.47 529.19,252.05 530,251.6 530.84,251.08 531.73,250.46 532.61,249.81 533.42,249.2 534.1,248.67 534.6,248.3" fill="none" stroke="#f07420" stroke-width="1" stroke-linejoin="round" stroke-linecap="round"/>
<path d="M404 263L405.85 266.33L402.15 266.33Z" fill="#f07420"/>
<path d="M405.28 261L407.13 264.33L403.43 264.33Z" fill="#f07420"/>
<path d="M406.67 258.95L408.52 262.28L404.82 262.28Z" fill="#f07420"/>
<path d="M408.29 256.93L410.14 260.26L406.44 260.26Z" fill="#f07420"/>
<path d="M410.09 255.02L411.94 258.35L408.24 258.35Z" fill="#f07420"/>
<path d="M412.37 252.75L414.22 256.08L410.52 256.08Z" fill="#f07420"/>
<path d="M414.97 250.42L416.82 253.75L413.12 253.75Z" fill="#f07420"/>
<path d="M417.59 248.55L419.44 251.88L415.74 251.88Z" fill="#f07420"/>
<path d="M421 246.6L422.85 249.93L419.15 249.93Z" fill="#f07420"/>
<path d="M424.44 244.98L426.29 248.31L422.59 248.31Z" fill="#f07420"/>
<path d="M428.66 243.09L430.51 246.42L426.81 246.42Z" fill="#f07420"/>
<path d="M433.01 240.93L434.86 244.26L431.16 244.26Z" fill="#f07420"/>
<path d="M437.52 239.51L439.37 242.84L435.67 242.84Z" fill="#f07420"/>
<path d="M442.6 238.5L444.45 241.83L440.75 241.83Z" fill="#f07420"/>
<path d="M447.79 237.92L449.64 241.25L445.94 241.25Z" fill="#f07420"/>
<path d="M453.36 237.63L455.21 240.96L451.51 240.96Z" fill="#f07420"/>
<path d="M458.51 237.59L460.36 240.92L456.66 240.92Z" fill="#f07420"/>
<path d="M463.57 237.6L465.42 240.93L461.72 240.93Z" fill="#f07420"/>
<path d="M468.46 238.12L470.31 241.45L466.61 241.45Z" fill="#f07420"/>
<path d="M473.38 238.93L475.23 242.26L471.53 242.26Z" fill="#f07420"/>
<path d="M478.58 240.37L480.43 243.7L476.73 243.7Z" fill="#f07420"/>
<path d="M483.97 242.31L485.82 245.64L482.12 245.64Z" fill="#f07420"/>
<path d="M485.8 243.27L487.4 246.15L484.2 246.15Z" fill="#f07420"/>
<path d="M487.23 243.86L488.83 246.74L485.63 246.74Z" fill="#f07420"/>
<path d="M488.56 244.41L490.16 247.29L486.96 247.29Z" fill="#f07420"/>
<path d="M490.02 245.01L491.62 247.89L488.42 247.89Z" fill="#f07420"/>
<path d="M491.45 245.6L493.05 248.48L489.85 248.48Z" fill="#f07420"/>
<path d="M492.71 246.13L494.31 249.01L491.11 249.01Z" fill="#f07420"/>
<path d="M493.9 246.65L495.5 249.53L492.3 249.53Z" fill="#f07420"/>
<path d="M495.07 247.17L496.67 250.05L493.47 250.05Z" fill="#f07420"/>
<path d="M496.28 247.69L497.88 250.57L494.68 250.57Z" fill="#f07420"/>
<path d="M497.59 248.21L499.19 251.09L495.99 251.09Z" fill="#f07420"/>
<path d="M499.05 248.74L500.65 251.62L497.45 251.62Z" fill="#f07420"/>
<path d="M500.66 249.28L502.26 252.16L499.06 252.16Z" fill="#f07420"/>
<path d="M502.37 249.83L503.97 252.71L500.77 252.71Z" fill="#f07420"/>
<path d="M504.12 250.37L505.72 253.25L502.52 253.25Z" fill="#f07420"/>
<path d="M505.85 250.85L507.45 253.73L504.25 253.73Z" fill="#f07420"/>
<path d="M507.55 251.28L509.15 254.16L505.95 254.16Z" fill="#f07420"/>
<path d="M509.3 251.67L510.9 254.55L507.7 254.55Z" fill="#f07420"/>
<path d="M511.06 252.02L512.66 254.9L509.46 254.9Z" fill="#f07420"/>
<path d="M512.76 252.33L514.36 255.21L511.16 255.21Z" fill="#f07420"/>
<path d="M514.3 252.57L515.9 255.45L512.7 255.45Z" fill="#f07420"/>
<path d="M515.63 252.75L517.23 255.63L514.03 255.63Z" fill="#f07420"/>
<path d="M516.74 252.87L518.34 255.75L515.14 255.75Z" fill="#f07420"/>
<path d="M518.16 252.93L519.76 255.81L516.56 255.81Z" fill="#f07420"/>
<path d="M519.51 252.9L521.11 255.78L517.91 255.78Z" fill="#f07420"/>
<path d="M521 252.8L522.6 255.68L519.4 255.68Z" fill="#f07420"/>
<path d="M522 252.69L523.6 255.57L520.4 255.57Z" fill="#f07420"/>
<path d="M523 252.54L524.6 255.42L521.4 255.42Z" fill="#f07420"/>
<path d="M524 252.34L525.6 255.22L522.4 255.22Z" fill="#f07420"/>
<path d="M525 252.07L526.6 254.95L523.4 254.95Z" fill="#f07420"/>
<path d="M526.01 251.74L527.61 254.62L524.41 254.62Z" fill="#f07420"/>
<path d="M527.02 251.35L528.62 254.23L525.42 254.23Z" fill="#f07420"/>
<path d="M528.03 250.9L529.63 253.78L526.43 253.78Z" fill="#f07420"/>
<path d="M529.03 250.4L530.63 253.28L527.43 253.28Z" fill="#f07420"/>
<path d="M530 249.87L531.6 252.75L528.4 252.75Z" fill="#f07420"/>
<path d="M531.02 249.23L532.62 252.11L529.42 252.11Z" fill="#f07420"/>
<path d="M532.09 248.47L533.69 251.35L530.49 251.35Z" fill="#f07420"/>
<path d="M533.11 247.71L534.71 250.59L531.51 250.59Z" fill="#f07420"/>
<path d="M533.98 247.04L535.58 249.92L532.38 249.92Z" fill="#f07420"/>
<line x1="466.2" y1="154.9" x2="479.3" y2="154.9" stroke="#6cc4e0" stroke-width="1.3"/>
<circle cx="473" cy="154.9" r="1.4" fill="#2a9fc8" stroke="none" stroke-width="0"/>
<text x="481.6" y="156.94" font-size="6" text-anchor="start" fill="#111" stroke="#111" stroke-width="0.22">PPC-NCM</text>
<line x1="466.2" y1="162.4" x2="479.3" y2="162.4" stroke="#c4480f" stroke-width="1.3"/>
<path d="M473 160.56L474.7 163.62L471.3 163.62Z" fill="#c4480f"/>
<text x="481.6" y="164.44" font-size="6" text-anchor="start" fill="#111" stroke="#111" stroke-width="0.22">PVDF-NCM</text>
<line x1="466.2" y1="170.1" x2="479.3" y2="170.1" stroke="#9cc0ee" stroke-width="1.3"/>
<circle cx="473" cy="170.1" r="1.4" fill="#3d82d2" stroke="none" stroke-width="0"/>
<text x="481.6" y="172.14" font-size="6" text-anchor="start" fill="#111" stroke="#111" stroke-width="0.22">PPC-NCM-After cycle</text>
<line x1="466.2" y1="177.8" x2="479.3" y2="177.8" stroke="#f07420" stroke-width="1.3"/>
<path d="M473 175.96L474.7 179.02L471.3 179.02Z" fill="#f07420"/>
<text x="481.6" y="179.84" font-size="6" text-anchor="start" fill="#111" stroke="#111" stroke-width="0.22">PVDF-NCM-After cycle</text>
<g stroke="#4a80d4" stroke-width="0.8" fill="none">
<line x1="410.1" y1="212.3" x2="416.3" y2="212.3" stroke="#4a80d4" stroke-width="0.8"/>
<rect x="416.3" y="209.6" width="10.2" height="5.4" rx="1.2"/>
<line x1="426.5" y1="212.3" x2="431.9" y2="212.3" stroke="#4a80d4" stroke-width="0.8"/>
<line x1="431.9" y1="205" x2="431.9" y2="218.7" stroke="#4a80d4" stroke-width="0.8"/>
<line x1="459.5" y1="205" x2="459.5" y2="218.7" stroke="#4a80d4" stroke-width="0.8"/>
<line x1="431.9" y1="205" x2="445" y2="205" stroke="#4a80d4" stroke-width="0.8"/>
<line x1="446.4" y1="205" x2="459.5" y2="205" stroke="#4a80d4" stroke-width="0.8"/>
<line x1="445" y1="203.4" x2="445" y2="206.6" stroke="#4a80d4" stroke-width="0.8"/>
<line x1="446.4" y1="203.4" x2="446.4" y2="206.6" stroke="#4a80d4" stroke-width="0.8"/>
<line x1="431.9" y1="218.7" x2="440.6" y2="218.7" stroke="#4a80d4" stroke-width="0.8"/>
<rect x="440.6" y="216.1" width="10.2" height="5.4" rx="1.2"/>
<line x1="450.8" y1="218.7" x2="459.5" y2="218.7" stroke="#4a80d4" stroke-width="0.8"/>
<line x1="459.5" y1="212.3" x2="465.2" y2="212.3" stroke="#4a80d4" stroke-width="0.8"/>
<polyline points="465.2,212.3 466.0,210.8 467.3,213.8 468.6,210.8 469.9,213.8 471.2,210.8 472.0,212.3"/>
<line x1="472" y1="212.3" x2="477" y2="212.3" stroke="#4a80d4" stroke-width="0.8"/>
</g>
<text x="421.4" y="213.73" font-size="4.2" text-anchor="middle" fill="#111" stroke="#111" stroke-width="0.15">R<tspan font-size="2.6" dy="0.8">s</tspan></text>
<text x="445.7" y="220.33" font-size="4.2" text-anchor="middle" fill="#111" stroke="#111" stroke-width="0.15">R<tspan font-size="2.6" dy="0.8">ct</tspan></text>
<text x="445.7" y="202.4" font-size="4.4" text-anchor="middle" fill="#111" stroke="#111" stroke-width="0.16">CPE1</text>
<text x="467.6" y="206.8" font-size="4.4" text-anchor="middle" fill="#111" stroke="#111" stroke-width="0.16">W</text>
</svg>
</body></html>
